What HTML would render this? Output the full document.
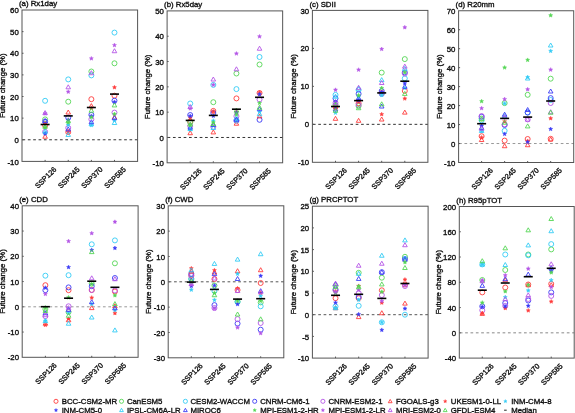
<!DOCTYPE html><html><head><meta charset="utf-8"><style>html,body{margin:0;padding:0;background:#fff;}svg{display:block;will-change:transform;}</style></head><body>
<svg width="575" height="413" viewBox="0 0 575 413" font-family='"Liberation Sans", sans-serif' font-size="7.8">
<style>text{fill:#111;stroke:#111;stroke-width:0.35px;}</style>
<rect width="575" height="413" fill="#fff"/>
<line x1="22.5" y1="139.77" x2="137.6" y2="139.77" stroke="#333" stroke-width="1" stroke-dasharray="2.7 2.65"/>
<rect x="22" y="10" width="115.6" height="151.4" fill="none" stroke="#555" stroke-width="1"/>
<text x="18.8" y="164.5" text-anchor="end">-10</text>
<line x1="22" y1="139.77" x2="23.5" y2="139.77" stroke="#555" stroke-width="1"/>
<text x="18.8" y="142.87" text-anchor="end">0</text>
<line x1="22" y1="118.14" x2="23.5" y2="118.14" stroke="#555" stroke-width="1"/>
<text x="18.8" y="121.24" text-anchor="end">10</text>
<line x1="22" y1="96.51" x2="23.5" y2="96.51" stroke="#555" stroke-width="1"/>
<text x="18.8" y="99.61" text-anchor="end">20</text>
<line x1="22" y1="74.89" x2="23.5" y2="74.89" stroke="#555" stroke-width="1"/>
<text x="18.8" y="77.99" text-anchor="end">30</text>
<line x1="22" y1="53.26" x2="23.5" y2="53.26" stroke="#555" stroke-width="1"/>
<text x="18.8" y="56.36" text-anchor="end">40</text>
<line x1="22" y1="31.63" x2="23.5" y2="31.63" stroke="#555" stroke-width="1"/>
<text x="18.8" y="34.73" text-anchor="end">50</text>
<text x="18.8" y="13.1" text-anchor="end">60</text>
<line x1="45.12" y1="161.4" x2="45.12" y2="159.9" stroke="#555" stroke-width="1"/>
<text transform="translate(56.92 169.9) rotate(-45)" text-anchor="end" font-size="7.3">SSP126</text>
<line x1="68.24" y1="161.4" x2="68.24" y2="159.9" stroke="#555" stroke-width="1"/>
<text transform="translate(80.04 169.9) rotate(-45)" text-anchor="end" font-size="7.3">SSP245</text>
<line x1="91.36" y1="161.4" x2="91.36" y2="159.9" stroke="#555" stroke-width="1"/>
<text transform="translate(103.16 169.9) rotate(-45)" text-anchor="end" font-size="7.3">SSP370</text>
<line x1="114.48" y1="161.4" x2="114.48" y2="159.9" stroke="#555" stroke-width="1"/>
<text transform="translate(126.28 169.9) rotate(-45)" text-anchor="end" font-size="7.3">SSP585</text>
<text x="19" y="6.1">(a) Rx1day</text>
<text transform="translate(5.2 85.7) rotate(-90)" text-anchor="middle">Future change (%)</text>
<circle cx="45.12" cy="125.6" r="2.5" fill="none" stroke="#ff3b3b" stroke-width="0.9"/>
<circle cx="45.12" cy="119.4" r="2.5" fill="none" stroke="#55d655" stroke-width="0.9"/>
<circle cx="45.12" cy="100.8" r="2.5" fill="none" stroke="#33ccf5" stroke-width="0.9"/>
<circle cx="45.12" cy="121.6" r="2.5" fill="none" stroke="#3a3af5" stroke-width="0.9"/>
<circle cx="45.12" cy="131.8" r="2.5" fill="none" stroke="#b455e6" stroke-width="0.9"/>
<polygon points="45.12,134.2 47.42,138.22 42.82,138.22" fill="none" stroke="#ff3b3b" stroke-width="0.9"/>
<polygon points="45.12,121.3 45.71,122.59 47.12,122.75 46.07,123.71 46.35,125.1 45.12,124.4 43.89,125.1 44.17,123.71 43.12,122.75 44.53,122.59" fill="#ff3b3b" stroke="#ff3b3b" stroke-width="0.45"/>
<polygon points="45.12,131.1 45.71,132.39 47.12,132.55 46.07,133.51 46.35,134.9 45.12,134.2 43.89,134.9 44.17,133.51 43.12,132.55 44.53,132.39" fill="#33ccf5" stroke="#33ccf5" stroke-width="0.45"/>
<polygon points="45.12,131.5 45.71,132.79 47.12,132.95 46.07,133.91 46.35,135.3 45.12,134.6 43.89,135.3 44.17,133.91 43.12,132.95 44.53,132.79" fill="#3a3af5" stroke="#3a3af5" stroke-width="0.45"/>
<polygon points="45.12,129.1 47.42,133.12 42.82,133.12" fill="none" stroke="#33ccf5" stroke-width="0.9"/>
<polygon points="45.12,118.6 47.42,122.62 42.82,122.62" fill="none" stroke="#3a3af5" stroke-width="0.9"/>
<polygon points="45.12,125.3 45.71,126.59 47.12,126.75 46.07,127.71 46.35,129.1 45.12,128.4 43.89,129.1 44.17,127.71 43.12,126.75 44.53,126.59" fill="#55d655" stroke="#55d655" stroke-width="0.45"/>
<polygon points="45.12,111.4 45.71,112.69 47.12,112.85 46.07,113.81 46.35,115.2 45.12,114.5 43.89,115.2 44.17,113.81 43.12,112.85 44.53,112.69" fill="#b455e6" stroke="#b455e6" stroke-width="0.45"/>
<polygon points="45.12,110.6 47.42,114.62 42.82,114.62" fill="none" stroke="#b455e6" stroke-width="0.9"/>
<polygon points="45.12,124.2 47.42,128.22 42.82,128.22" fill="none" stroke="#55d655" stroke-width="0.9"/>
<line x1="40.62" y1="124.5" x2="49.62" y2="124.5" stroke="#000" stroke-width="1.6"/>
<circle cx="68.24" cy="132.1" r="2.5" fill="none" stroke="#ff3b3b" stroke-width="0.9"/>
<circle cx="68.24" cy="101.7" r="2.5" fill="none" stroke="#55d655" stroke-width="0.9"/>
<circle cx="68.24" cy="79.4" r="2.5" fill="none" stroke="#33ccf5" stroke-width="0.9"/>
<circle cx="68.24" cy="117.7" r="2.5" fill="none" stroke="#3a3af5" stroke-width="0.9"/>
<circle cx="68.24" cy="127.9" r="2.5" fill="none" stroke="#b455e6" stroke-width="0.9"/>
<polygon points="68.24,110 70.54,114.02 65.94,114.02" fill="none" stroke="#ff3b3b" stroke-width="0.9"/>
<polygon points="68.24,130 68.83,131.29 70.24,131.45 69.19,132.41 69.47,133.8 68.24,133.1 67.01,133.8 67.29,132.41 66.24,131.45 67.65,131.29" fill="#ff3b3b" stroke="#ff3b3b" stroke-width="0.45"/>
<polygon points="68.24,122.8 68.83,124.09 70.24,124.25 69.19,125.21 69.47,126.6 68.24,125.9 67.01,126.6 67.29,125.21 66.24,124.25 67.65,124.09" fill="#33ccf5" stroke="#33ccf5" stroke-width="0.45"/>
<polygon points="68.24,117.7 68.83,118.99 70.24,119.15 69.19,120.11 69.47,121.5 68.24,120.8 67.01,121.5 67.29,120.11 66.24,119.15 67.65,118.99" fill="#3a3af5" stroke="#3a3af5" stroke-width="0.45"/>
<polygon points="68.24,132.4 70.54,136.42 65.94,136.42" fill="none" stroke="#33ccf5" stroke-width="0.9"/>
<polygon points="68.24,126.9 70.54,130.92 65.94,130.92" fill="none" stroke="#3a3af5" stroke-width="0.9"/>
<polygon points="68.24,120.3 68.83,121.59 70.24,121.75 69.19,122.71 69.47,124.1 68.24,123.4 67.01,124.1 67.29,122.71 66.24,121.75 67.65,121.59" fill="#55d655" stroke="#55d655" stroke-width="0.45"/>
<polygon points="68.24,89.7 68.83,90.99 70.24,91.15 69.19,92.11 69.47,93.5 68.24,92.8 67.01,93.5 67.29,92.11 66.24,91.15 67.65,90.99" fill="#b455e6" stroke="#b455e6" stroke-width="0.45"/>
<polygon points="68.24,84.8 70.54,88.82 65.94,88.82" fill="none" stroke="#b455e6" stroke-width="0.9"/>
<polygon points="68.24,118.7 70.54,122.72 65.94,122.72" fill="none" stroke="#55d655" stroke-width="0.9"/>
<line x1="63.74" y1="115.9" x2="72.74" y2="115.9" stroke="#000" stroke-width="1.6"/>
<circle cx="91.36" cy="99.2" r="2.5" fill="none" stroke="#ff3b3b" stroke-width="0.9"/>
<circle cx="91.36" cy="71.5" r="2.5" fill="none" stroke="#55d655" stroke-width="0.9"/>
<circle cx="91.36" cy="75.4" r="2.5" fill="none" stroke="#33ccf5" stroke-width="0.9"/>
<circle cx="91.36" cy="114.9" r="2.5" fill="none" stroke="#3a3af5" stroke-width="0.9"/>
<circle cx="91.36" cy="119.3" r="2.5" fill="none" stroke="#b455e6" stroke-width="0.9"/>
<polygon points="91.36,103.6 93.66,107.62 89.06,107.62" fill="none" stroke="#ff3b3b" stroke-width="0.9"/>
<polygon points="91.36,105.9 91.95,107.19 93.36,107.35 92.31,108.31 92.59,109.7 91.36,109 90.13,109.7 90.41,108.31 89.36,107.35 90.77,107.19" fill="#ff3b3b" stroke="#ff3b3b" stroke-width="0.45"/>
<polygon points="91.36,123.1 91.95,124.39 93.36,124.55 92.31,125.51 92.59,126.9 91.36,126.2 90.13,126.9 90.41,125.51 89.36,124.55 90.77,124.39" fill="#33ccf5" stroke="#33ccf5" stroke-width="0.45"/>
<polygon points="91.36,113.9 91.95,115.19 93.36,115.35 92.31,116.31 92.59,117.7 91.36,117 90.13,117.7 90.41,116.31 89.36,115.35 90.77,115.19" fill="#3a3af5" stroke="#3a3af5" stroke-width="0.45"/>
<polygon points="91.36,121.7 93.66,125.72 89.06,125.72" fill="none" stroke="#33ccf5" stroke-width="0.9"/>
<polygon points="91.36,119.7 93.66,123.72 89.06,123.72" fill="none" stroke="#3a3af5" stroke-width="0.9"/>
<polygon points="91.36,115.2 91.95,116.49 93.36,116.65 92.31,117.61 92.59,119 91.36,118.3 90.13,119 90.41,117.61 89.36,116.65 90.77,116.49" fill="#55d655" stroke="#55d655" stroke-width="0.45"/>
<polygon points="91.36,56.4 91.95,57.69 93.36,57.85 92.31,58.81 92.59,60.2 91.36,59.5 90.13,60.2 90.41,58.81 89.36,57.85 90.77,57.69" fill="#b455e6" stroke="#b455e6" stroke-width="0.45"/>
<polygon points="91.36,70.7 93.66,74.72 89.06,74.72" fill="none" stroke="#b455e6" stroke-width="0.9"/>
<polygon points="91.36,108.2 93.66,112.22 89.06,112.22" fill="none" stroke="#55d655" stroke-width="0.9"/>
<line x1="86.86" y1="107.5" x2="95.86" y2="107.5" stroke="#000" stroke-width="1.6"/>
<circle cx="114.48" cy="95.7" r="2.5" fill="none" stroke="#ff3b3b" stroke-width="0.9"/>
<circle cx="114.48" cy="63.3" r="2.5" fill="none" stroke="#55d655" stroke-width="0.9"/>
<circle cx="114.48" cy="32.6" r="2.5" fill="none" stroke="#33ccf5" stroke-width="0.9"/>
<circle cx="114.48" cy="100.7" r="2.5" fill="none" stroke="#3a3af5" stroke-width="0.9"/>
<circle cx="114.48" cy="112.6" r="2.5" fill="none" stroke="#b455e6" stroke-width="0.9"/>
<polygon points="114.48,115 116.78,119.02 112.18,119.02" fill="none" stroke="#ff3b3b" stroke-width="0.9"/>
<polygon points="114.48,85.3 115.07,86.59 116.48,86.75 115.43,87.71 115.71,89.1 114.48,88.4 113.25,89.1 113.53,87.71 112.48,86.75 113.89,86.59" fill="#ff3b3b" stroke="#ff3b3b" stroke-width="0.45"/>
<polygon points="114.48,118.3 115.07,119.59 116.48,119.75 115.43,120.71 115.71,122.1 114.48,121.4 113.25,122.1 113.53,120.71 112.48,119.75 113.89,119.59" fill="#33ccf5" stroke="#33ccf5" stroke-width="0.45"/>
<polygon points="114.48,99.9 115.07,101.19 116.48,101.35 115.43,102.31 115.71,103.7 114.48,103 113.25,103.7 113.53,102.31 112.48,101.35 113.89,101.19" fill="#3a3af5" stroke="#3a3af5" stroke-width="0.45"/>
<polygon points="114.48,120.5 116.78,124.52 112.18,124.52" fill="none" stroke="#33ccf5" stroke-width="0.9"/>
<polygon points="114.48,115.7 116.78,119.72 112.18,119.72" fill="none" stroke="#3a3af5" stroke-width="0.9"/>
<polygon points="114.48,112 115.07,113.29 116.48,113.45 115.43,114.41 115.71,115.8 114.48,115.1 113.25,115.8 113.53,114.41 112.48,113.45 113.89,113.29" fill="#55d655" stroke="#55d655" stroke-width="0.45"/>
<polygon points="114.48,43.1 115.07,44.39 116.48,44.55 115.43,45.51 115.71,46.9 114.48,46.2 113.25,46.9 113.53,45.51 112.48,44.55 113.89,44.39" fill="#b455e6" stroke="#b455e6" stroke-width="0.45"/>
<polygon points="114.48,48.7 116.78,52.73 112.18,52.73" fill="none" stroke="#b455e6" stroke-width="0.9"/>
<polygon points="114.48,102.9 116.78,106.92 112.18,106.92" fill="none" stroke="#55d655" stroke-width="0.9"/>
<line x1="109.98" y1="94.1" x2="118.98" y2="94.1" stroke="#000" stroke-width="1.6"/>
<line x1="167.6" y1="137.48" x2="282.65" y2="137.48" stroke="#333" stroke-width="1" stroke-dasharray="2.7 2.65"/>
<rect x="167.1" y="10.9" width="115.55" height="151.9" fill="none" stroke="#555" stroke-width="1"/>
<text x="163.9" y="165.9" text-anchor="end">-10</text>
<line x1="167.1" y1="137.48" x2="168.6" y2="137.48" stroke="#555" stroke-width="1"/>
<text x="163.9" y="140.58" text-anchor="end">0</text>
<line x1="167.1" y1="112.17" x2="168.6" y2="112.17" stroke="#555" stroke-width="1"/>
<text x="163.9" y="115.27" text-anchor="end">10</text>
<line x1="167.1" y1="86.85" x2="168.6" y2="86.85" stroke="#555" stroke-width="1"/>
<text x="163.9" y="89.95" text-anchor="end">20</text>
<line x1="167.1" y1="61.53" x2="168.6" y2="61.53" stroke="#555" stroke-width="1"/>
<text x="163.9" y="64.63" text-anchor="end">30</text>
<line x1="167.1" y1="36.22" x2="168.6" y2="36.22" stroke="#555" stroke-width="1"/>
<text x="163.9" y="39.32" text-anchor="end">40</text>
<text x="163.9" y="14" text-anchor="end">50</text>
<line x1="190.21" y1="162.8" x2="190.21" y2="161.3" stroke="#555" stroke-width="1"/>
<text transform="translate(202.01 171.3) rotate(-45)" text-anchor="end" font-size="7.3">SSP126</text>
<line x1="213.32" y1="162.8" x2="213.32" y2="161.3" stroke="#555" stroke-width="1"/>
<text transform="translate(225.12 171.3) rotate(-45)" text-anchor="end" font-size="7.3">SSP245</text>
<line x1="236.43" y1="162.8" x2="236.43" y2="161.3" stroke="#555" stroke-width="1"/>
<text transform="translate(248.23 171.3) rotate(-45)" text-anchor="end" font-size="7.3">SSP370</text>
<line x1="259.54" y1="162.8" x2="259.54" y2="161.3" stroke="#555" stroke-width="1"/>
<text transform="translate(271.34 171.3) rotate(-45)" text-anchor="end" font-size="7.3">SSP585</text>
<text x="164.1" y="7">(b) Rx5day</text>
<text transform="translate(150.3 86.85) rotate(-90)" text-anchor="middle">Future change (%)</text>
<circle cx="190.21" cy="121.5" r="2.5" fill="none" stroke="#ff3b3b" stroke-width="0.9"/>
<circle cx="190.21" cy="122.5" r="2.5" fill="none" stroke="#55d655" stroke-width="0.9"/>
<circle cx="190.21" cy="103.5" r="2.5" fill="none" stroke="#33ccf5" stroke-width="0.9"/>
<circle cx="190.21" cy="115" r="2.5" fill="none" stroke="#3a3af5" stroke-width="0.9"/>
<circle cx="190.21" cy="126" r="2.5" fill="none" stroke="#b455e6" stroke-width="0.9"/>
<polygon points="190.21,130.7 192.51,134.72 187.91,134.72" fill="none" stroke="#ff3b3b" stroke-width="0.9"/>
<polygon points="190.21,115.7 190.8,116.99 192.21,117.15 191.16,118.11 191.44,119.5 190.21,118.8 188.98,119.5 189.26,118.11 188.21,117.15 189.62,116.99" fill="#ff3b3b" stroke="#ff3b3b" stroke-width="0.45"/>
<polygon points="190.21,127.4 190.8,128.69 192.21,128.85 191.16,129.81 191.44,131.2 190.21,130.5 188.98,131.2 189.26,129.81 188.21,128.85 189.62,128.69" fill="#33ccf5" stroke="#33ccf5" stroke-width="0.45"/>
<polygon points="190.21,113.9 190.8,115.19 192.21,115.35 191.16,116.31 191.44,117.7 190.21,117 188.98,117.7 189.26,116.31 188.21,115.35 189.62,115.19" fill="#3a3af5" stroke="#3a3af5" stroke-width="0.45"/>
<polygon points="190.21,126.5 192.51,130.53 187.91,130.53" fill="none" stroke="#33ccf5" stroke-width="0.9"/>
<polygon points="190.21,125.1 192.51,129.12 187.91,129.12" fill="none" stroke="#3a3af5" stroke-width="0.9"/>
<polygon points="190.21,122.9 190.8,124.19 192.21,124.35 191.16,125.31 191.44,126.7 190.21,126 188.98,126.7 189.26,125.31 188.21,124.35 189.62,124.19" fill="#55d655" stroke="#55d655" stroke-width="0.45"/>
<polygon points="190.21,106.4 190.8,107.69 192.21,107.85 191.16,108.81 191.44,110.2 190.21,109.5 188.98,110.2 189.26,108.81 188.21,107.85 189.62,107.69" fill="#b455e6" stroke="#b455e6" stroke-width="0.45"/>
<polygon points="190.21,104.5 192.51,108.52 187.91,108.52" fill="none" stroke="#b455e6" stroke-width="0.9"/>
<polygon points="190.21,121.9 192.51,125.92 187.91,125.92" fill="none" stroke="#55d655" stroke-width="0.9"/>
<line x1="185.71" y1="120.4" x2="194.71" y2="120.4" stroke="#000" stroke-width="1.6"/>
<circle cx="213.32" cy="110.9" r="2.5" fill="none" stroke="#ff3b3b" stroke-width="0.9"/>
<circle cx="213.32" cy="102.2" r="2.5" fill="none" stroke="#55d655" stroke-width="0.9"/>
<circle cx="213.32" cy="84.9" r="2.5" fill="none" stroke="#33ccf5" stroke-width="0.9"/>
<circle cx="213.32" cy="113" r="2.5" fill="none" stroke="#3a3af5" stroke-width="0.9"/>
<circle cx="213.32" cy="126.8" r="2.5" fill="none" stroke="#b455e6" stroke-width="0.9"/>
<polygon points="213.32,129.9 215.62,133.92 211.02,133.92" fill="none" stroke="#ff3b3b" stroke-width="0.9"/>
<polygon points="213.32,109.4 213.91,110.69 215.32,110.85 214.27,111.81 214.55,113.2 213.32,112.5 212.09,113.2 212.37,111.81 211.32,110.85 212.73,110.69" fill="#ff3b3b" stroke="#ff3b3b" stroke-width="0.45"/>
<polygon points="213.32,118.7 213.91,119.99 215.32,120.15 214.27,121.11 214.55,122.5 213.32,121.8 212.09,122.5 212.37,121.11 211.32,120.15 212.73,119.99" fill="#33ccf5" stroke="#33ccf5" stroke-width="0.45"/>
<polygon points="213.32,113.8 213.91,115.09 215.32,115.25 214.27,116.21 214.55,117.6 213.32,116.9 212.09,117.6 212.37,116.21 211.32,115.25 212.73,115.09" fill="#3a3af5" stroke="#3a3af5" stroke-width="0.45"/>
<polygon points="213.32,125.5 215.62,129.53 211.02,129.53" fill="none" stroke="#33ccf5" stroke-width="0.9"/>
<polygon points="213.32,122.5 215.62,126.52 211.02,126.52" fill="none" stroke="#3a3af5" stroke-width="0.9"/>
<polygon points="213.32,120.4 213.91,121.69 215.32,121.85 214.27,122.81 214.55,124.2 213.32,123.5 212.09,124.2 212.37,122.81 211.32,121.85 212.73,121.69" fill="#55d655" stroke="#55d655" stroke-width="0.45"/>
<polygon points="213.32,82.8 213.91,84.09 215.32,84.25 214.27,85.21 214.55,86.6 213.32,85.9 212.09,86.6 212.37,85.21 211.32,84.25 212.73,84.09" fill="#b455e6" stroke="#b455e6" stroke-width="0.45"/>
<polygon points="213.32,77 215.62,81.02 211.02,81.02" fill="none" stroke="#b455e6" stroke-width="0.9"/>
<polygon points="213.32,121.5 215.62,125.52 211.02,125.52" fill="none" stroke="#55d655" stroke-width="0.9"/>
<line x1="208.82" y1="115.4" x2="217.82" y2="115.4" stroke="#000" stroke-width="1.6"/>
<circle cx="236.43" cy="98.4" r="2.5" fill="none" stroke="#ff3b3b" stroke-width="0.9"/>
<circle cx="236.43" cy="73.5" r="2.5" fill="none" stroke="#55d655" stroke-width="0.9"/>
<circle cx="236.43" cy="89.1" r="2.5" fill="none" stroke="#33ccf5" stroke-width="0.9"/>
<circle cx="236.43" cy="120.6" r="2.5" fill="none" stroke="#3a3af5" stroke-width="0.9"/>
<circle cx="236.43" cy="116.2" r="2.5" fill="none" stroke="#b455e6" stroke-width="0.9"/>
<polygon points="236.43,121.2 238.73,125.22 234.13,125.22" fill="none" stroke="#ff3b3b" stroke-width="0.9"/>
<polygon points="236.43,109.9 237.02,111.19 238.43,111.35 237.38,112.31 237.66,113.7 236.43,113 235.2,113.7 235.48,112.31 234.43,111.35 235.84,111.19" fill="#ff3b3b" stroke="#ff3b3b" stroke-width="0.45"/>
<polygon points="236.43,118.9 237.02,120.19 238.43,120.35 237.38,121.31 237.66,122.7 236.43,122 235.2,122.7 235.48,121.31 234.43,120.35 235.84,120.19" fill="#33ccf5" stroke="#33ccf5" stroke-width="0.45"/>
<polygon points="236.43,110.5 237.02,111.79 238.43,111.95 237.38,112.91 237.66,114.3 236.43,113.6 235.2,114.3 235.48,112.91 234.43,111.95 235.84,111.79" fill="#3a3af5" stroke="#3a3af5" stroke-width="0.45"/>
<polygon points="236.43,115.4 238.73,119.42 234.13,119.42" fill="none" stroke="#33ccf5" stroke-width="0.9"/>
<polygon points="236.43,117.2 238.73,121.22 234.13,121.22" fill="none" stroke="#3a3af5" stroke-width="0.9"/>
<polygon points="236.43,112.4 237.02,113.69 238.43,113.85 237.38,114.81 237.66,116.2 236.43,115.5 235.2,116.2 235.48,114.81 234.43,113.85 235.84,113.69" fill="#55d655" stroke="#55d655" stroke-width="0.45"/>
<polygon points="236.43,51.5 237.02,52.79 238.43,52.95 237.38,53.91 237.66,55.3 236.43,54.6 235.2,55.3 235.48,53.91 234.43,52.95 235.84,52.79" fill="#b455e6" stroke="#b455e6" stroke-width="0.45"/>
<polygon points="236.43,66.8 238.73,70.82 234.13,70.82" fill="none" stroke="#b455e6" stroke-width="0.9"/>
<polygon points="236.43,108.1 238.73,112.12 234.13,112.12" fill="none" stroke="#55d655" stroke-width="0.9"/>
<line x1="231.93" y1="109.2" x2="240.93" y2="109.2" stroke="#000" stroke-width="1.6"/>
<circle cx="259.54" cy="93" r="2.5" fill="none" stroke="#ff3b3b" stroke-width="0.9"/>
<circle cx="259.54" cy="64.5" r="2.5" fill="none" stroke="#55d655" stroke-width="0.9"/>
<circle cx="259.54" cy="57" r="2.5" fill="none" stroke="#33ccf5" stroke-width="0.9"/>
<circle cx="259.54" cy="119.8" r="2.5" fill="none" stroke="#3a3af5" stroke-width="0.9"/>
<circle cx="259.54" cy="99.5" r="2.5" fill="none" stroke="#b455e6" stroke-width="0.9"/>
<polygon points="259.54,113.9 261.84,117.92 257.24,117.92" fill="none" stroke="#ff3b3b" stroke-width="0.9"/>
<polygon points="259.54,90.4 260.13,91.69 261.54,91.85 260.49,92.81 260.77,94.2 259.54,93.5 258.31,94.2 258.59,92.81 257.54,91.85 258.95,91.69" fill="#ff3b3b" stroke="#ff3b3b" stroke-width="0.45"/>
<polygon points="259.54,109.8 260.13,111.09 261.54,111.25 260.49,112.21 260.77,113.6 259.54,112.9 258.31,113.6 258.59,112.21 257.54,111.25 258.95,111.09" fill="#33ccf5" stroke="#33ccf5" stroke-width="0.45"/>
<polygon points="259.54,92.3 260.13,93.59 261.54,93.75 260.49,94.71 260.77,96.1 259.54,95.4 258.31,96.1 258.59,94.71 257.54,93.75 258.95,93.59" fill="#3a3af5" stroke="#3a3af5" stroke-width="0.45"/>
<polygon points="259.54,111.7 261.84,115.72 257.24,115.72" fill="none" stroke="#33ccf5" stroke-width="0.9"/>
<polygon points="259.54,106.7 261.84,110.72 257.24,110.72" fill="none" stroke="#3a3af5" stroke-width="0.9"/>
<polygon points="259.54,101 260.13,102.29 261.54,102.45 260.49,103.41 260.77,104.8 259.54,104.1 258.31,104.8 258.59,103.41 257.54,102.45 258.95,102.29" fill="#55d655" stroke="#55d655" stroke-width="0.45"/>
<polygon points="259.54,34.4 260.13,35.69 261.54,35.85 260.49,36.81 260.77,38.2 259.54,37.5 258.31,38.2 258.59,36.81 257.54,35.85 258.95,35.69" fill="#b455e6" stroke="#b455e6" stroke-width="0.45"/>
<polygon points="259.54,46.2 261.84,50.23 257.24,50.23" fill="none" stroke="#b455e6" stroke-width="0.9"/>
<polygon points="259.54,105.2 261.84,109.22 257.24,109.22" fill="none" stroke="#55d655" stroke-width="0.9"/>
<line x1="255.04" y1="97.3" x2="264.04" y2="97.3" stroke="#000" stroke-width="1.6"/>
<line x1="312.9" y1="124.33" x2="427.9" y2="124.33" stroke="#333" stroke-width="1" stroke-dasharray="2.7 2.65"/>
<rect x="312.4" y="10.4" width="115.5" height="151.9" fill="none" stroke="#555" stroke-width="1"/>
<text x="309.2" y="165.4" text-anchor="end">-10</text>
<line x1="312.4" y1="124.33" x2="313.9" y2="124.33" stroke="#555" stroke-width="1"/>
<text x="309.2" y="127.43" text-anchor="end">0</text>
<line x1="312.4" y1="86.35" x2="313.9" y2="86.35" stroke="#555" stroke-width="1"/>
<text x="309.2" y="89.45" text-anchor="end">10</text>
<line x1="312.4" y1="48.38" x2="313.9" y2="48.38" stroke="#555" stroke-width="1"/>
<text x="309.2" y="51.48" text-anchor="end">20</text>
<text x="309.2" y="13.5" text-anchor="end">30</text>
<line x1="335.5" y1="162.3" x2="335.5" y2="160.8" stroke="#555" stroke-width="1"/>
<text transform="translate(347.3 170.8) rotate(-45)" text-anchor="end" font-size="7.3">SSP126</text>
<line x1="358.6" y1="162.3" x2="358.6" y2="160.8" stroke="#555" stroke-width="1"/>
<text transform="translate(370.4 170.8) rotate(-45)" text-anchor="end" font-size="7.3">SSP245</text>
<line x1="381.7" y1="162.3" x2="381.7" y2="160.8" stroke="#555" stroke-width="1"/>
<text transform="translate(393.5 170.8) rotate(-45)" text-anchor="end" font-size="7.3">SSP370</text>
<line x1="404.8" y1="162.3" x2="404.8" y2="160.8" stroke="#555" stroke-width="1"/>
<text transform="translate(416.6 170.8) rotate(-45)" text-anchor="end" font-size="7.3">SSP585</text>
<text x="309.4" y="6.5">(c) SDII</text>
<text transform="translate(295.6 86.35) rotate(-90)" text-anchor="middle">Future change (%)</text>
<circle cx="335.5" cy="107" r="2.5" fill="none" stroke="#ff3b3b" stroke-width="0.9"/>
<circle cx="335.5" cy="105" r="2.5" fill="none" stroke="#55d655" stroke-width="0.9"/>
<circle cx="335.5" cy="94.9" r="2.5" fill="none" stroke="#33ccf5" stroke-width="0.9"/>
<circle cx="335.5" cy="98.4" r="2.5" fill="none" stroke="#3a3af5" stroke-width="0.9"/>
<circle cx="335.5" cy="102.9" r="2.5" fill="none" stroke="#b455e6" stroke-width="0.9"/>
<polygon points="335.5,116.3 337.8,120.32 333.2,120.32" fill="none" stroke="#ff3b3b" stroke-width="0.9"/>
<polygon points="335.5,106.2 336.09,107.49 337.5,107.65 336.45,108.61 336.73,110 335.5,109.3 334.27,110 334.55,108.61 333.5,107.65 334.91,107.49" fill="#ff3b3b" stroke="#ff3b3b" stroke-width="0.45"/>
<polygon points="335.5,110.7 336.09,111.99 337.5,112.15 336.45,113.11 336.73,114.5 335.5,113.8 334.27,114.5 334.55,113.11 333.5,112.15 334.91,111.99" fill="#33ccf5" stroke="#33ccf5" stroke-width="0.45"/>
<polygon points="335.5,99.5 336.09,100.79 337.5,100.95 336.45,101.91 336.73,103.3 335.5,102.6 334.27,103.3 334.55,101.91 333.5,100.95 334.91,100.79" fill="#3a3af5" stroke="#3a3af5" stroke-width="0.45"/>
<polygon points="335.5,94.2 337.8,98.22 333.2,98.22" fill="none" stroke="#33ccf5" stroke-width="0.9"/>
<polygon points="335.5,106.9 337.8,110.92 333.2,110.92" fill="none" stroke="#3a3af5" stroke-width="0.9"/>
<polygon points="335.5,102.2 336.09,103.49 337.5,103.65 336.45,104.61 336.73,106 335.5,105.3 334.27,106 334.55,104.61 333.5,103.65 334.91,103.49" fill="#55d655" stroke="#55d655" stroke-width="0.45"/>
<polygon points="335.5,87.8 336.09,89.09 337.5,89.25 336.45,90.21 336.73,91.6 335.5,90.9 334.27,91.6 334.55,90.21 333.5,89.25 334.91,89.09" fill="#b455e6" stroke="#b455e6" stroke-width="0.45"/>
<polygon points="335.5,100.7 337.8,104.72 333.2,104.72" fill="none" stroke="#b455e6" stroke-width="0.9"/>
<polygon points="335.5,108.2 337.8,112.22 333.2,112.22" fill="none" stroke="#55d655" stroke-width="0.9"/>
<line x1="331" y1="106.5" x2="340" y2="106.5" stroke="#000" stroke-width="1.6"/>
<circle cx="358.6" cy="103.3" r="2.5" fill="none" stroke="#ff3b3b" stroke-width="0.9"/>
<circle cx="358.6" cy="106" r="2.5" fill="none" stroke="#55d655" stroke-width="0.9"/>
<circle cx="358.6" cy="89.9" r="2.5" fill="none" stroke="#33ccf5" stroke-width="0.9"/>
<circle cx="358.6" cy="93.9" r="2.5" fill="none" stroke="#3a3af5" stroke-width="0.9"/>
<circle cx="358.6" cy="104.9" r="2.5" fill="none" stroke="#b455e6" stroke-width="0.9"/>
<polygon points="358.6,118.3 360.9,122.32 356.3,122.32" fill="none" stroke="#ff3b3b" stroke-width="0.9"/>
<polygon points="358.6,99.9 359.19,101.19 360.6,101.35 359.55,102.31 359.83,103.7 358.6,103 357.37,103.7 357.65,102.31 356.6,101.35 358.01,101.19" fill="#ff3b3b" stroke="#ff3b3b" stroke-width="0.45"/>
<polygon points="358.6,94.9 359.19,96.19 360.6,96.35 359.55,97.31 359.83,98.7 358.6,98 357.37,98.7 357.65,97.31 356.6,96.35 358.01,96.19" fill="#33ccf5" stroke="#33ccf5" stroke-width="0.45"/>
<polygon points="358.6,98.1 359.19,99.39 360.6,99.55 359.55,100.51 359.83,101.9 358.6,101.2 357.37,101.9 357.65,100.51 356.6,99.55 358.01,99.39" fill="#3a3af5" stroke="#3a3af5" stroke-width="0.45"/>
<polygon points="358.6,86.2 360.9,90.22 356.3,90.22" fill="none" stroke="#33ccf5" stroke-width="0.9"/>
<polygon points="358.6,95.7 360.9,99.72 356.3,99.72" fill="none" stroke="#3a3af5" stroke-width="0.9"/>
<polygon points="358.6,93.3 359.19,94.59 360.6,94.75 359.55,95.71 359.83,97.1 358.6,96.4 357.37,97.1 357.65,95.71 356.6,94.75 358.01,94.59" fill="#55d655" stroke="#55d655" stroke-width="0.45"/>
<polygon points="358.6,67.7 359.19,68.99 360.6,69.15 359.55,70.11 359.83,71.5 358.6,70.8 357.37,71.5 357.65,70.11 356.6,69.15 358.01,68.99" fill="#b455e6" stroke="#b455e6" stroke-width="0.45"/>
<polygon points="358.6,85.3 360.9,89.32 356.3,89.32" fill="none" stroke="#b455e6" stroke-width="0.9"/>
<polygon points="358.6,105.7 360.9,109.72 356.3,109.72" fill="none" stroke="#55d655" stroke-width="0.9"/>
<line x1="354.1" y1="100.6" x2="363.1" y2="100.6" stroke="#000" stroke-width="1.6"/>
<circle cx="381.7" cy="93" r="2.5" fill="none" stroke="#ff3b3b" stroke-width="0.9"/>
<circle cx="381.7" cy="72.6" r="2.5" fill="none" stroke="#55d655" stroke-width="0.9"/>
<circle cx="381.7" cy="94" r="2.5" fill="none" stroke="#33ccf5" stroke-width="0.9"/>
<circle cx="381.7" cy="91" r="2.5" fill="none" stroke="#3a3af5" stroke-width="0.9"/>
<circle cx="381.7" cy="93.5" r="2.5" fill="none" stroke="#b455e6" stroke-width="0.9"/>
<polygon points="381.7,117 384,121.02 379.4,121.02" fill="none" stroke="#ff3b3b" stroke-width="0.9"/>
<polygon points="381.7,112.2 382.29,113.49 383.7,113.65 382.65,114.61 382.93,116 381.7,115.3 380.47,116 380.75,114.61 379.7,113.65 381.11,113.49" fill="#ff3b3b" stroke="#ff3b3b" stroke-width="0.45"/>
<polygon points="381.7,92.9 382.29,94.19 383.7,94.35 382.65,95.31 382.93,96.7 381.7,96 380.47,96.7 380.75,95.31 379.7,94.35 381.11,94.19" fill="#33ccf5" stroke="#33ccf5" stroke-width="0.45"/>
<polygon points="381.7,89.9 382.29,91.19 383.7,91.35 382.65,92.31 382.93,93.7 381.7,93 380.47,93.7 380.75,92.31 379.7,91.35 381.11,91.19" fill="#3a3af5" stroke="#3a3af5" stroke-width="0.45"/>
<polygon points="381.7,77.6 384,81.62 379.4,81.62" fill="none" stroke="#33ccf5" stroke-width="0.9"/>
<polygon points="381.7,104 384,108.02 379.4,108.02" fill="none" stroke="#3a3af5" stroke-width="0.9"/>
<polygon points="381.7,86 382.29,87.29 383.7,87.45 382.65,88.41 382.93,89.8 381.7,89.1 380.47,89.8 380.75,88.41 379.7,87.45 381.11,87.29" fill="#55d655" stroke="#55d655" stroke-width="0.45"/>
<polygon points="381.7,47 382.29,48.29 383.7,48.45 382.65,49.41 382.93,50.8 381.7,50.1 380.47,50.8 380.75,49.41 379.7,48.45 381.11,48.29" fill="#b455e6" stroke="#b455e6" stroke-width="0.45"/>
<polygon points="381.7,80.5 384,84.52 379.4,84.52" fill="none" stroke="#b455e6" stroke-width="0.9"/>
<polygon points="381.7,101.8 384,105.82 379.4,105.82" fill="none" stroke="#55d655" stroke-width="0.9"/>
<line x1="377.2" y1="92.9" x2="386.2" y2="92.9" stroke="#000" stroke-width="1.6"/>
<circle cx="404.8" cy="90.9" r="2.5" fill="none" stroke="#ff3b3b" stroke-width="0.9"/>
<circle cx="404.8" cy="59.1" r="2.5" fill="none" stroke="#55d655" stroke-width="0.9"/>
<circle cx="404.8" cy="78.4" r="2.5" fill="none" stroke="#33ccf5" stroke-width="0.9"/>
<circle cx="404.8" cy="72.4" r="2.5" fill="none" stroke="#3a3af5" stroke-width="0.9"/>
<circle cx="404.8" cy="73.5" r="2.5" fill="none" stroke="#b455e6" stroke-width="0.9"/>
<polygon points="404.8,110.1 407.1,114.12 402.5,114.12" fill="none" stroke="#ff3b3b" stroke-width="0.9"/>
<polygon points="404.8,96.5 405.39,97.79 406.8,97.95 405.75,98.91 406.03,100.3 404.8,99.6 403.57,100.3 403.85,98.91 402.8,97.95 404.21,97.79" fill="#ff3b3b" stroke="#ff3b3b" stroke-width="0.45"/>
<polygon points="404.8,85.9 405.39,87.19 406.8,87.35 405.75,88.31 406.03,89.7 404.8,89 403.57,89.7 403.85,88.31 402.8,87.35 404.21,87.19" fill="#33ccf5" stroke="#33ccf5" stroke-width="0.45"/>
<polygon points="404.8,81.2 405.39,82.49 406.8,82.65 405.75,83.61 406.03,85 404.8,84.3 403.57,85 403.85,83.61 402.8,82.65 404.21,82.49" fill="#3a3af5" stroke="#3a3af5" stroke-width="0.45"/>
<polygon points="404.8,66.3 407.1,70.32 402.5,70.32" fill="none" stroke="#33ccf5" stroke-width="0.9"/>
<polygon points="404.8,84.3 407.1,88.32 402.5,88.32" fill="none" stroke="#3a3af5" stroke-width="0.9"/>
<polygon points="404.8,70.3 405.39,71.59 406.8,71.75 405.75,72.71 406.03,74.1 404.8,73.4 403.57,74.1 403.85,72.71 402.8,71.75 404.21,71.59" fill="#55d655" stroke="#55d655" stroke-width="0.45"/>
<polygon points="404.8,25.3 405.39,26.59 406.8,26.75 405.75,27.71 406.03,29.1 404.8,28.4 403.57,29.1 403.85,27.71 402.8,26.75 404.21,26.59" fill="#b455e6" stroke="#b455e6" stroke-width="0.45"/>
<polygon points="404.8,64.1 407.1,68.12 402.5,68.12" fill="none" stroke="#b455e6" stroke-width="0.9"/>
<polygon points="404.8,91.4 407.1,95.42 402.5,95.42" fill="none" stroke="#55d655" stroke-width="0.9"/>
<line x1="400.3" y1="81.2" x2="409.3" y2="81.2" stroke="#000" stroke-width="1.6"/>
<line x1="459.1" y1="143.53" x2="573.7" y2="143.53" stroke="#999" stroke-width="1" stroke-dasharray="2.7 2.65"/>
<rect x="458.6" y="10.75" width="115.1" height="151.75" fill="none" stroke="#555" stroke-width="1"/>
<text x="455.4" y="165.6" text-anchor="end">-10</text>
<line x1="458.6" y1="143.53" x2="460.1" y2="143.53" stroke="#555" stroke-width="1"/>
<text x="455.4" y="146.63" text-anchor="end">0</text>
<line x1="458.6" y1="124.56" x2="460.1" y2="124.56" stroke="#555" stroke-width="1"/>
<text x="455.4" y="127.66" text-anchor="end">10</text>
<line x1="458.6" y1="105.59" x2="460.1" y2="105.59" stroke="#555" stroke-width="1"/>
<text x="455.4" y="108.69" text-anchor="end">20</text>
<line x1="458.6" y1="86.62" x2="460.1" y2="86.62" stroke="#555" stroke-width="1"/>
<text x="455.4" y="89.72" text-anchor="end">30</text>
<line x1="458.6" y1="67.66" x2="460.1" y2="67.66" stroke="#555" stroke-width="1"/>
<text x="455.4" y="70.76" text-anchor="end">40</text>
<line x1="458.6" y1="48.69" x2="460.1" y2="48.69" stroke="#555" stroke-width="1"/>
<text x="455.4" y="51.79" text-anchor="end">50</text>
<line x1="458.6" y1="29.72" x2="460.1" y2="29.72" stroke="#555" stroke-width="1"/>
<text x="455.4" y="32.82" text-anchor="end">60</text>
<text x="455.4" y="13.85" text-anchor="end">70</text>
<line x1="481.62" y1="162.5" x2="481.62" y2="161" stroke="#555" stroke-width="1"/>
<text transform="translate(493.42 171) rotate(-45)" text-anchor="end" font-size="7.3">SSP126</text>
<line x1="504.64" y1="162.5" x2="504.64" y2="161" stroke="#555" stroke-width="1"/>
<text transform="translate(516.44 171) rotate(-45)" text-anchor="end" font-size="7.3">SSP245</text>
<line x1="527.66" y1="162.5" x2="527.66" y2="161" stroke="#555" stroke-width="1"/>
<text transform="translate(539.46 171) rotate(-45)" text-anchor="end" font-size="7.3">SSP370</text>
<line x1="550.68" y1="162.5" x2="550.68" y2="161" stroke="#555" stroke-width="1"/>
<text transform="translate(562.48 171) rotate(-45)" text-anchor="end" font-size="7.3">SSP585</text>
<text x="455.6" y="6.85">(d) R20mm</text>
<text transform="translate(441.8 86.62) rotate(-90)" text-anchor="middle">Future change (%)</text>
<circle cx="481.62" cy="136.2" r="2.5" fill="none" stroke="#ff3b3b" stroke-width="0.9"/>
<circle cx="481.62" cy="118.6" r="2.5" fill="none" stroke="#55d655" stroke-width="0.9"/>
<circle cx="481.62" cy="120.4" r="2.5" fill="none" stroke="#33ccf5" stroke-width="0.9"/>
<circle cx="481.62" cy="116.8" r="2.5" fill="none" stroke="#3a3af5" stroke-width="0.9"/>
<circle cx="481.62" cy="116" r="2.5" fill="none" stroke="#b455e6" stroke-width="0.9"/>
<polygon points="481.62,137.5 483.92,141.53 479.32,141.53" fill="none" stroke="#ff3b3b" stroke-width="0.9"/>
<polygon points="481.62,135.4 482.21,136.69 483.62,136.85 482.57,137.81 482.85,139.2 481.62,138.5 480.39,139.2 480.67,137.81 479.62,136.85 481.03,136.69" fill="#ff3b3b" stroke="#ff3b3b" stroke-width="0.45"/>
<polygon points="481.62,128.9 482.21,130.19 483.62,130.35 482.57,131.31 482.85,132.7 481.62,132 480.39,132.7 480.67,131.31 479.62,130.35 481.03,130.19" fill="#33ccf5" stroke="#33ccf5" stroke-width="0.45"/>
<polygon points="481.62,123.8 482.21,125.09 483.62,125.25 482.57,126.21 482.85,127.6 481.62,126.9 480.39,127.6 480.67,126.21 479.62,125.25 481.03,125.09" fill="#3a3af5" stroke="#3a3af5" stroke-width="0.45"/>
<polygon points="481.62,128.4 483.92,132.42 479.32,132.42" fill="none" stroke="#33ccf5" stroke-width="0.9"/>
<polygon points="481.62,125.4 483.92,129.43 479.32,129.43" fill="none" stroke="#3a3af5" stroke-width="0.9"/>
<polygon points="481.62,99.2 482.21,100.49 483.62,100.65 482.57,101.61 482.85,103 481.62,102.3 480.39,103 480.67,101.61 479.62,100.65 481.03,100.49" fill="#55d655" stroke="#55d655" stroke-width="0.45"/>
<polygon points="481.62,106.2 482.21,107.49 483.62,107.65 482.57,108.61 482.85,110 481.62,109.3 480.39,110 480.67,108.61 479.62,107.65 481.03,107.49" fill="#b455e6" stroke="#b455e6" stroke-width="0.45"/>
<polygon points="481.62,126.2 483.92,130.22 479.32,130.22" fill="none" stroke="#b455e6" stroke-width="0.9"/>
<polygon points="481.62,116.7 483.92,120.72 479.32,120.72" fill="none" stroke="#55d655" stroke-width="0.9"/>
<line x1="477.12" y1="123.7" x2="486.12" y2="123.7" stroke="#000" stroke-width="1.6"/>
<circle cx="504.64" cy="140.6" r="2.5" fill="none" stroke="#ff3b3b" stroke-width="0.9"/>
<circle cx="504.64" cy="103.1" r="2.5" fill="none" stroke="#55d655" stroke-width="0.9"/>
<circle cx="504.64" cy="130.8" r="2.5" fill="none" stroke="#33ccf5" stroke-width="0.9"/>
<circle cx="504.64" cy="125" r="2.5" fill="none" stroke="#3a3af5" stroke-width="0.9"/>
<circle cx="504.64" cy="124.3" r="2.5" fill="none" stroke="#b455e6" stroke-width="0.9"/>
<polygon points="504.64,143.7 506.94,147.72 502.34,147.72" fill="none" stroke="#ff3b3b" stroke-width="0.9"/>
<polygon points="504.64,119.4 505.23,120.69 506.64,120.85 505.59,121.81 505.87,123.2 504.64,122.5 503.41,123.2 503.69,121.81 502.64,120.85 504.05,120.69" fill="#ff3b3b" stroke="#ff3b3b" stroke-width="0.45"/>
<polygon points="504.64,101.4 505.23,102.69 506.64,102.85 505.59,103.81 505.87,105.2 504.64,104.5 503.41,105.2 503.69,103.81 502.64,102.85 504.05,102.69" fill="#33ccf5" stroke="#33ccf5" stroke-width="0.45"/>
<polygon points="504.64,131.9 505.23,133.19 506.64,133.35 505.59,134.31 505.87,135.7 504.64,135 503.41,135.7 503.69,134.31 502.64,133.35 504.05,133.19" fill="#3a3af5" stroke="#3a3af5" stroke-width="0.45"/>
<polygon points="504.64,113.7 506.94,117.72 502.34,117.72" fill="none" stroke="#33ccf5" stroke-width="0.9"/>
<polygon points="504.64,112.2 506.94,116.22 502.34,116.22" fill="none" stroke="#3a3af5" stroke-width="0.9"/>
<polygon points="504.64,65.5 505.23,66.79 506.64,66.95 505.59,67.91 505.87,69.3 504.64,68.6 503.41,69.3 503.69,67.91 502.64,66.95 504.05,66.79" fill="#55d655" stroke="#55d655" stroke-width="0.45"/>
<polygon points="504.64,97.1 505.23,98.39 506.64,98.55 505.59,99.51 505.87,100.9 504.64,100.2 503.41,100.9 503.69,99.51 502.64,98.55 504.05,98.39" fill="#b455e6" stroke="#b455e6" stroke-width="0.45"/>
<polygon points="504.64,114.7 506.94,118.72 502.34,118.72" fill="none" stroke="#b455e6" stroke-width="0.9"/>
<polygon points="504.64,120.2 506.94,124.22 502.34,124.22" fill="none" stroke="#55d655" stroke-width="0.9"/>
<line x1="500.14" y1="118.4" x2="509.14" y2="118.4" stroke="#000" stroke-width="1.6"/>
<circle cx="527.66" cy="139" r="2.5" fill="none" stroke="#ff3b3b" stroke-width="0.9"/>
<circle cx="527.66" cy="94.8" r="2.5" fill="none" stroke="#55d655" stroke-width="0.9"/>
<circle cx="527.66" cy="112.5" r="2.5" fill="none" stroke="#33ccf5" stroke-width="0.9"/>
<circle cx="527.66" cy="112.5" r="2.5" fill="none" stroke="#3a3af5" stroke-width="0.9"/>
<circle cx="527.66" cy="119.4" r="2.5" fill="none" stroke="#b455e6" stroke-width="0.9"/>
<polygon points="527.66,142.7 529.96,146.72 525.36,146.72" fill="none" stroke="#ff3b3b" stroke-width="0.9"/>
<polygon points="527.66,138.9 528.25,140.19 529.66,140.35 528.61,141.31 528.89,142.7 527.66,142 526.43,142.7 526.71,141.31 525.66,140.35 527.07,140.19" fill="#ff3b3b" stroke="#ff3b3b" stroke-width="0.45"/>
<polygon points="527.66,75.1 528.25,76.39 529.66,76.55 528.61,77.51 528.89,78.9 527.66,78.2 526.43,78.9 526.71,77.51 525.66,76.55 527.07,76.39" fill="#33ccf5" stroke="#33ccf5" stroke-width="0.45"/>
<polygon points="527.66,139.9 528.25,141.19 529.66,141.35 528.61,142.31 528.89,143.7 527.66,143 526.43,143.7 526.71,142.31 525.66,141.35 527.07,141.19" fill="#3a3af5" stroke="#3a3af5" stroke-width="0.45"/>
<polygon points="527.66,76 529.96,80.02 525.36,80.02" fill="none" stroke="#33ccf5" stroke-width="0.9"/>
<polygon points="527.66,107.5 529.96,111.52 525.36,111.52" fill="none" stroke="#3a3af5" stroke-width="0.9"/>
<polygon points="527.66,57.9 528.25,59.19 529.66,59.35 528.61,60.31 528.89,61.7 527.66,61 526.43,61.7 526.71,60.31 525.66,59.35 527.07,59.19" fill="#55d655" stroke="#55d655" stroke-width="0.45"/>
<polygon points="527.66,87.3 528.25,88.59 529.66,88.75 528.61,89.71 528.89,91.1 527.66,90.4 526.43,91.1 526.71,89.71 525.66,88.75 527.07,88.59" fill="#b455e6" stroke="#b455e6" stroke-width="0.45"/>
<polygon points="527.66,117.1 529.96,121.12 525.36,121.12" fill="none" stroke="#b455e6" stroke-width="0.9"/>
<polygon points="527.66,123.9 529.96,127.92 525.36,127.92" fill="none" stroke="#55d655" stroke-width="0.9"/>
<line x1="523.16" y1="117.1" x2="532.16" y2="117.1" stroke="#000" stroke-width="1.6"/>
<circle cx="550.68" cy="138.8" r="2.5" fill="none" stroke="#ff3b3b" stroke-width="0.9"/>
<circle cx="550.68" cy="78.7" r="2.5" fill="none" stroke="#55d655" stroke-width="0.9"/>
<circle cx="550.68" cy="100" r="2.5" fill="none" stroke="#33ccf5" stroke-width="0.9"/>
<circle cx="550.68" cy="98.1" r="2.5" fill="none" stroke="#3a3af5" stroke-width="0.9"/>
<circle cx="550.68" cy="103" r="2.5" fill="none" stroke="#b455e6" stroke-width="0.9"/>
<polygon points="550.68,137 552.98,141.03 548.38,141.03" fill="none" stroke="#ff3b3b" stroke-width="0.9"/>
<polygon points="550.68,116.3 551.27,117.59 552.68,117.75 551.63,118.71 551.91,120.1 550.68,119.4 549.45,120.1 549.73,118.71 548.68,117.75 550.09,117.59" fill="#ff3b3b" stroke="#ff3b3b" stroke-width="0.45"/>
<polygon points="550.68,48.9 551.27,50.19 552.68,50.35 551.63,51.31 551.91,52.7 550.68,52 549.45,52.7 549.73,51.31 548.68,50.35 550.09,50.19" fill="#33ccf5" stroke="#33ccf5" stroke-width="0.45"/>
<polygon points="550.68,127 551.27,128.29 552.68,128.45 551.63,129.41 551.91,130.8 550.68,130.1 549.45,130.8 549.73,129.41 548.68,128.45 550.09,128.29" fill="#3a3af5" stroke="#3a3af5" stroke-width="0.45"/>
<polygon points="550.68,43 552.98,47.02 548.38,47.02" fill="none" stroke="#33ccf5" stroke-width="0.9"/>
<polygon points="550.68,89 552.98,93.02 548.38,93.02" fill="none" stroke="#3a3af5" stroke-width="0.9"/>
<polygon points="550.68,13.3 551.27,14.59 552.68,14.75 551.63,15.71 551.91,17.1 550.68,16.4 549.45,17.1 549.73,15.71 548.68,14.75 550.09,14.59" fill="#55d655" stroke="#55d655" stroke-width="0.45"/>
<polygon points="550.68,67.6 551.27,68.89 552.68,69.05 551.63,70.01 551.91,71.4 550.68,70.7 549.45,71.4 549.73,70.01 548.68,69.05 550.09,68.89" fill="#b455e6" stroke="#b455e6" stroke-width="0.45"/>
<polygon points="550.68,109.7 552.98,113.72 548.38,113.72" fill="none" stroke="#b455e6" stroke-width="0.9"/>
<polygon points="550.68,110.2 552.98,114.22 548.38,114.22" fill="none" stroke="#55d655" stroke-width="0.9"/>
<line x1="546.18" y1="101" x2="555.18" y2="101" stroke="#000" stroke-width="1.6"/>
<line x1="22.7" y1="306.8" x2="138.1" y2="306.8" stroke="#999" stroke-width="1" stroke-dasharray="2.7 2.65"/>
<rect x="22.2" y="205.8" width="115.9" height="151.5" fill="none" stroke="#555" stroke-width="1"/>
<text x="19" y="360.4" text-anchor="end">-20</text>
<line x1="22.2" y1="332.05" x2="23.7" y2="332.05" stroke="#555" stroke-width="1"/>
<text x="19" y="335.15" text-anchor="end">-10</text>
<line x1="22.2" y1="306.8" x2="23.7" y2="306.8" stroke="#555" stroke-width="1"/>
<text x="19" y="309.9" text-anchor="end">0</text>
<line x1="22.2" y1="281.55" x2="23.7" y2="281.55" stroke="#555" stroke-width="1"/>
<text x="19" y="284.65" text-anchor="end">10</text>
<line x1="22.2" y1="256.3" x2="23.7" y2="256.3" stroke="#555" stroke-width="1"/>
<text x="19" y="259.4" text-anchor="end">20</text>
<line x1="22.2" y1="231.05" x2="23.7" y2="231.05" stroke="#555" stroke-width="1"/>
<text x="19" y="234.15" text-anchor="end">30</text>
<text x="19" y="208.9" text-anchor="end">40</text>
<line x1="45.38" y1="357.3" x2="45.38" y2="355.8" stroke="#555" stroke-width="1"/>
<text transform="translate(57.18 365.8) rotate(-45)" text-anchor="end" font-size="7.3">SSP126</text>
<line x1="68.56" y1="357.3" x2="68.56" y2="355.8" stroke="#555" stroke-width="1"/>
<text transform="translate(80.36 365.8) rotate(-45)" text-anchor="end" font-size="7.3">SSP245</text>
<line x1="91.74" y1="357.3" x2="91.74" y2="355.8" stroke="#555" stroke-width="1"/>
<text transform="translate(103.54 365.8) rotate(-45)" text-anchor="end" font-size="7.3">SSP370</text>
<line x1="114.92" y1="357.3" x2="114.92" y2="355.8" stroke="#555" stroke-width="1"/>
<text transform="translate(126.72 365.8) rotate(-45)" text-anchor="end" font-size="7.3">SSP585</text>
<text x="19.2" y="201.9">(e) CDD</text>
<text transform="translate(5.4 281.55) rotate(-90)" text-anchor="middle">Future change (%)</text>
<circle cx="45.38" cy="285.2" r="2.5" fill="none" stroke="#ff3b3b" stroke-width="0.9"/>
<circle cx="45.38" cy="309" r="2.5" fill="none" stroke="#55d655" stroke-width="0.9"/>
<circle cx="45.38" cy="275.7" r="2.5" fill="none" stroke="#33ccf5" stroke-width="0.9"/>
<circle cx="45.38" cy="290.2" r="2.5" fill="none" stroke="#3a3af5" stroke-width="0.9"/>
<circle cx="45.38" cy="316.2" r="2.5" fill="none" stroke="#b455e6" stroke-width="0.9"/>
<polygon points="45.38,321.2 47.68,325.23 43.08,325.23" fill="none" stroke="#ff3b3b" stroke-width="0.9"/>
<polygon points="45.38,322.9 45.97,324.19 47.38,324.35 46.33,325.31 46.61,326.7 45.38,326 44.15,326.7 44.43,325.31 43.38,324.35 44.79,324.19" fill="#ff3b3b" stroke="#ff3b3b" stroke-width="0.45"/>
<polygon points="45.38,318.8 45.97,320.09 47.38,320.25 46.33,321.21 46.61,322.6 45.38,321.9 44.15,322.6 44.43,321.21 43.38,320.25 44.79,320.09" fill="#33ccf5" stroke="#33ccf5" stroke-width="0.45"/>
<polygon points="45.38,285.7 45.97,286.99 47.38,287.15 46.33,288.11 46.61,289.5 45.38,288.8 44.15,289.5 44.43,288.11 43.38,287.15 44.79,286.99" fill="#3a3af5" stroke="#3a3af5" stroke-width="0.45"/>
<polygon points="45.38,318.6 47.68,322.62 43.08,322.62" fill="none" stroke="#33ccf5" stroke-width="0.9"/>
<polygon points="45.38,310.7 47.68,314.73 43.08,314.73" fill="none" stroke="#3a3af5" stroke-width="0.9"/>
<polygon points="45.38,305.4 45.97,306.69 47.38,306.85 46.33,307.81 46.61,309.2 45.38,308.5 44.15,309.2 44.43,307.81 43.38,306.85 44.79,306.69" fill="#55d655" stroke="#55d655" stroke-width="0.45"/>
<polygon points="45.38,292 45.97,293.29 47.38,293.45 46.33,294.41 46.61,295.8 45.38,295.1 44.15,295.8 44.43,294.41 43.38,293.45 44.79,293.29" fill="#b455e6" stroke="#b455e6" stroke-width="0.45"/>
<polygon points="45.38,312.7 47.68,316.73 43.08,316.73" fill="none" stroke="#b455e6" stroke-width="0.9"/>
<polygon points="45.38,308.4 47.68,312.43 43.08,312.43" fill="none" stroke="#55d655" stroke-width="0.9"/>
<line x1="40.88" y1="306.7" x2="49.88" y2="306.7" stroke="#000" stroke-width="1.6"/>
<circle cx="68.56" cy="290.2" r="2.5" fill="none" stroke="#ff3b3b" stroke-width="0.9"/>
<circle cx="68.56" cy="312" r="2.5" fill="none" stroke="#55d655" stroke-width="0.9"/>
<circle cx="68.56" cy="275.2" r="2.5" fill="none" stroke="#33ccf5" stroke-width="0.9"/>
<circle cx="68.56" cy="287.4" r="2.5" fill="none" stroke="#3a3af5" stroke-width="0.9"/>
<circle cx="68.56" cy="306.3" r="2.5" fill="none" stroke="#b455e6" stroke-width="0.9"/>
<polygon points="68.56,317.7 70.86,321.73 66.26,321.73" fill="none" stroke="#ff3b3b" stroke-width="0.9"/>
<polygon points="68.56,316.8 69.15,318.09 70.56,318.25 69.51,319.21 69.79,320.6 68.56,319.9 67.33,320.6 67.61,319.21 66.56,318.25 67.97,318.09" fill="#ff3b3b" stroke="#ff3b3b" stroke-width="0.45"/>
<polygon points="68.56,310.9 69.15,312.19 70.56,312.35 69.51,313.31 69.79,314.7 68.56,314 67.33,314.7 67.61,313.31 66.56,312.35 67.97,312.19" fill="#33ccf5" stroke="#33ccf5" stroke-width="0.45"/>
<polygon points="68.56,265.1 69.15,266.39 70.56,266.55 69.51,267.51 69.79,268.9 68.56,268.2 67.33,268.9 67.61,267.51 66.56,266.55 67.97,266.39" fill="#3a3af5" stroke="#3a3af5" stroke-width="0.45"/>
<polygon points="68.56,321.2 70.86,325.23 66.26,325.23" fill="none" stroke="#33ccf5" stroke-width="0.9"/>
<polygon points="68.56,307.4 70.86,311.43 66.26,311.43" fill="none" stroke="#3a3af5" stroke-width="0.9"/>
<polygon points="68.56,295.4 69.15,296.69 70.56,296.85 69.51,297.81 69.79,299.2 68.56,298.5 67.33,299.2 67.61,297.81 66.56,296.85 67.97,296.69" fill="#55d655" stroke="#55d655" stroke-width="0.45"/>
<polygon points="68.56,239.1 69.15,240.39 70.56,240.55 69.51,241.51 69.79,242.9 68.56,242.2 67.33,242.9 67.61,241.51 66.56,240.55 67.97,240.39" fill="#b455e6" stroke="#b455e6" stroke-width="0.45"/>
<polygon points="68.56,305.7 70.86,309.73 66.26,309.73" fill="none" stroke="#b455e6" stroke-width="0.9"/>
<polygon points="68.56,313.2 70.86,317.23 66.26,317.23" fill="none" stroke="#55d655" stroke-width="0.9"/>
<line x1="64.06" y1="298.2" x2="73.06" y2="298.2" stroke="#000" stroke-width="1.6"/>
<circle cx="91.74" cy="290" r="2.5" fill="none" stroke="#ff3b3b" stroke-width="0.9"/>
<circle cx="91.74" cy="283.7" r="2.5" fill="none" stroke="#55d655" stroke-width="0.9"/>
<circle cx="91.74" cy="244.3" r="2.5" fill="none" stroke="#33ccf5" stroke-width="0.9"/>
<circle cx="91.74" cy="286.2" r="2.5" fill="none" stroke="#3a3af5" stroke-width="0.9"/>
<circle cx="91.74" cy="290" r="2.5" fill="none" stroke="#b455e6" stroke-width="0.9"/>
<polygon points="91.74,305.6 94.04,309.62 89.44,309.62" fill="none" stroke="#ff3b3b" stroke-width="0.9"/>
<polygon points="91.74,295.6 92.33,296.89 93.74,297.05 92.69,298.01 92.97,299.4 91.74,298.7 90.51,299.4 90.79,298.01 89.74,297.05 91.15,296.89" fill="#ff3b3b" stroke="#ff3b3b" stroke-width="0.45"/>
<polygon points="91.74,301.9 92.33,303.19 93.74,303.35 92.69,304.31 92.97,305.7 91.74,305 90.51,305.7 90.79,304.31 89.74,303.35 91.15,303.19" fill="#33ccf5" stroke="#33ccf5" stroke-width="0.45"/>
<polygon points="91.74,248 92.33,249.29 93.74,249.45 92.69,250.41 92.97,251.8 91.74,251.1 90.51,251.8 90.79,250.41 89.74,249.45 91.15,249.29" fill="#3a3af5" stroke="#3a3af5" stroke-width="0.45"/>
<polygon points="91.74,315 94.04,319.03 89.44,319.03" fill="none" stroke="#33ccf5" stroke-width="0.9"/>
<polygon points="91.74,299.7 94.04,303.73 89.44,303.73" fill="none" stroke="#3a3af5" stroke-width="0.9"/>
<polygon points="91.74,281.9 92.33,283.19 93.74,283.35 92.69,284.31 92.97,285.7 91.74,285 90.51,285.7 90.79,284.31 89.74,283.35 91.15,283.19" fill="#55d655" stroke="#55d655" stroke-width="0.45"/>
<polygon points="91.74,231.2 92.33,232.49 93.74,232.65 92.69,233.61 92.97,235 91.74,234.3 90.51,235 90.79,233.61 89.74,232.65 91.15,232.49" fill="#b455e6" stroke="#b455e6" stroke-width="0.45"/>
<polygon points="91.74,275.8 94.04,279.83 89.44,279.83" fill="none" stroke="#b455e6" stroke-width="0.9"/>
<polygon points="91.74,249.6 94.04,253.62 89.44,253.62" fill="none" stroke="#55d655" stroke-width="0.9"/>
<line x1="87.24" y1="281.2" x2="96.24" y2="281.2" stroke="#000" stroke-width="1.6"/>
<circle cx="114.92" cy="291.5" r="2.5" fill="none" stroke="#ff3b3b" stroke-width="0.9"/>
<circle cx="114.92" cy="263.3" r="2.5" fill="none" stroke="#55d655" stroke-width="0.9"/>
<circle cx="114.92" cy="240.4" r="2.5" fill="none" stroke="#33ccf5" stroke-width="0.9"/>
<circle cx="114.92" cy="278" r="2.5" fill="none" stroke="#3a3af5" stroke-width="0.9"/>
<circle cx="114.92" cy="290.5" r="2.5" fill="none" stroke="#b455e6" stroke-width="0.9"/>
<polygon points="114.92,303.7 117.22,307.73 112.62,307.73" fill="none" stroke="#ff3b3b" stroke-width="0.9"/>
<polygon points="114.92,311.1 115.51,312.39 116.92,312.55 115.87,313.51 116.15,314.9 114.92,314.2 113.69,314.9 113.97,313.51 112.92,312.55 114.33,312.39" fill="#ff3b3b" stroke="#ff3b3b" stroke-width="0.45"/>
<polygon points="114.92,307.9 115.51,309.19 116.92,309.35 115.87,310.31 116.15,311.7 114.92,311 113.69,311.7 113.97,310.31 112.92,309.35 114.33,309.19" fill="#33ccf5" stroke="#33ccf5" stroke-width="0.45"/>
<polygon points="114.92,246 115.51,247.29 116.92,247.45 115.87,248.41 116.15,249.8 114.92,249.1 113.69,249.8 113.97,248.41 112.92,247.45 114.33,247.29" fill="#3a3af5" stroke="#3a3af5" stroke-width="0.45"/>
<polygon points="114.92,327.9 117.22,331.93 112.62,331.93" fill="none" stroke="#33ccf5" stroke-width="0.9"/>
<polygon points="114.92,305.8 117.22,309.83 112.62,309.83" fill="none" stroke="#3a3af5" stroke-width="0.9"/>
<polygon points="114.92,293.3 115.51,294.59 116.92,294.75 115.87,295.71 116.15,297.1 114.92,296.4 113.69,297.1 113.97,295.71 112.92,294.75 114.33,294.59" fill="#55d655" stroke="#55d655" stroke-width="0.45"/>
<polygon points="114.92,219.8 115.51,221.09 116.92,221.25 115.87,222.21 116.15,223.6 114.92,222.9 113.69,223.6 113.97,222.21 112.92,221.25 114.33,221.09" fill="#b455e6" stroke="#b455e6" stroke-width="0.45"/>
<polygon points="114.92,276.7 117.22,280.73 112.62,280.73" fill="none" stroke="#b455e6" stroke-width="0.9"/>
<polygon points="114.92,301.6 117.22,305.62 112.62,305.62" fill="none" stroke="#55d655" stroke-width="0.9"/>
<line x1="110.42" y1="287.3" x2="119.42" y2="287.3" stroke="#000" stroke-width="1.6"/>
<line x1="168.7" y1="281.8" x2="283.8" y2="281.8" stroke="#555" stroke-width="1" stroke-dasharray="2.7 2.65"/>
<rect x="168.2" y="205.8" width="115.6" height="152" fill="none" stroke="#555" stroke-width="1"/>
<text x="165" y="360.9" text-anchor="end">-30</text>
<line x1="168.2" y1="332.47" x2="169.7" y2="332.47" stroke="#555" stroke-width="1"/>
<text x="165" y="335.57" text-anchor="end">-20</text>
<line x1="168.2" y1="307.13" x2="169.7" y2="307.13" stroke="#555" stroke-width="1"/>
<text x="165" y="310.23" text-anchor="end">-10</text>
<line x1="168.2" y1="281.8" x2="169.7" y2="281.8" stroke="#555" stroke-width="1"/>
<text x="165" y="284.9" text-anchor="end">0</text>
<line x1="168.2" y1="256.47" x2="169.7" y2="256.47" stroke="#555" stroke-width="1"/>
<text x="165" y="259.57" text-anchor="end">10</text>
<line x1="168.2" y1="231.13" x2="169.7" y2="231.13" stroke="#555" stroke-width="1"/>
<text x="165" y="234.23" text-anchor="end">20</text>
<text x="165" y="208.9" text-anchor="end">30</text>
<line x1="191.32" y1="357.8" x2="191.32" y2="356.3" stroke="#555" stroke-width="1"/>
<text transform="translate(203.12 366.3) rotate(-45)" text-anchor="end" font-size="7.3">SSP126</text>
<line x1="214.44" y1="357.8" x2="214.44" y2="356.3" stroke="#555" stroke-width="1"/>
<text transform="translate(226.24 366.3) rotate(-45)" text-anchor="end" font-size="7.3">SSP245</text>
<line x1="237.56" y1="357.8" x2="237.56" y2="356.3" stroke="#555" stroke-width="1"/>
<text transform="translate(249.36 366.3) rotate(-45)" text-anchor="end" font-size="7.3">SSP370</text>
<line x1="260.68" y1="357.8" x2="260.68" y2="356.3" stroke="#555" stroke-width="1"/>
<text transform="translate(272.48 366.3) rotate(-45)" text-anchor="end" font-size="7.3">SSP585</text>
<text x="165.2" y="201.9">(f) CWD</text>
<text transform="translate(151.4 281.8) rotate(-90)" text-anchor="middle">Future change (%)</text>
<circle cx="191.32" cy="275.2" r="2.5" fill="none" stroke="#ff3b3b" stroke-width="0.9"/>
<circle cx="191.32" cy="278.9" r="2.5" fill="none" stroke="#55d655" stroke-width="0.9"/>
<circle cx="191.32" cy="279" r="2.5" fill="none" stroke="#33ccf5" stroke-width="0.9"/>
<circle cx="191.32" cy="273.8" r="2.5" fill="none" stroke="#3a3af5" stroke-width="0.9"/>
<circle cx="191.32" cy="276" r="2.5" fill="none" stroke="#b455e6" stroke-width="0.9"/>
<polygon points="191.32,269 193.62,273.03 189.02,273.03" fill="none" stroke="#ff3b3b" stroke-width="0.9"/>
<polygon points="191.32,266.3 191.91,267.59 193.32,267.75 192.27,268.71 192.55,270.1 191.32,269.4 190.09,270.1 190.37,268.71 189.32,267.75 190.73,267.59" fill="#ff3b3b" stroke="#ff3b3b" stroke-width="0.45"/>
<polygon points="191.32,287.7 191.91,288.99 193.32,289.15 192.27,290.11 192.55,291.5 191.32,290.8 190.09,291.5 190.37,290.11 189.32,289.15 190.73,288.99" fill="#33ccf5" stroke="#33ccf5" stroke-width="0.45"/>
<polygon points="191.32,284 191.91,285.29 193.32,285.45 192.27,286.41 192.55,287.8 191.32,287.1 190.09,287.8 190.37,286.41 189.32,285.45 190.73,285.29" fill="#3a3af5" stroke="#3a3af5" stroke-width="0.45"/>
<polygon points="191.32,267.9 193.62,271.93 189.02,271.93" fill="none" stroke="#33ccf5" stroke-width="0.9"/>
<polygon points="191.32,278 193.62,282.03 189.02,282.03" fill="none" stroke="#3a3af5" stroke-width="0.9"/>
<polygon points="191.32,280.4 191.91,281.69 193.32,281.85 192.27,282.81 192.55,284.2 191.32,283.5 190.09,284.2 190.37,282.81 189.32,281.85 190.73,281.69" fill="#55d655" stroke="#55d655" stroke-width="0.45"/>
<polygon points="191.32,282.4 191.91,283.69 193.32,283.85 192.27,284.81 192.55,286.2 191.32,285.5 190.09,286.2 190.37,284.81 189.32,283.85 190.73,283.69" fill="#b455e6" stroke="#b455e6" stroke-width="0.45"/>
<polygon points="191.32,281.6 193.62,285.62 189.02,285.62" fill="none" stroke="#b455e6" stroke-width="0.9"/>
<polygon points="191.32,278.7 193.62,282.73 189.02,282.73" fill="none" stroke="#55d655" stroke-width="0.9"/>
<line x1="186.82" y1="282.1" x2="195.82" y2="282.1" stroke="#000" stroke-width="1.6"/>
<circle cx="214.44" cy="279" r="2.5" fill="none" stroke="#ff3b3b" stroke-width="0.9"/>
<circle cx="214.44" cy="285.5" r="2.5" fill="none" stroke="#55d655" stroke-width="0.9"/>
<circle cx="214.44" cy="291" r="2.5" fill="none" stroke="#33ccf5" stroke-width="0.9"/>
<circle cx="214.44" cy="305.1" r="2.5" fill="none" stroke="#3a3af5" stroke-width="0.9"/>
<circle cx="214.44" cy="308" r="2.5" fill="none" stroke="#b455e6" stroke-width="0.9"/>
<polygon points="214.44,270 216.74,274.03 212.14,274.03" fill="none" stroke="#ff3b3b" stroke-width="0.9"/>
<polygon points="214.44,268.2 215.03,269.49 216.44,269.65 215.39,270.61 215.67,272 214.44,271.3 213.21,272 213.49,270.61 212.44,269.65 213.85,269.49" fill="#ff3b3b" stroke="#ff3b3b" stroke-width="0.45"/>
<polygon points="214.44,297.9 215.03,299.19 216.44,299.35 215.39,300.31 215.67,301.7 214.44,301 213.21,301.7 213.49,300.31 212.44,299.35 213.85,299.19" fill="#33ccf5" stroke="#33ccf5" stroke-width="0.45"/>
<polygon points="214.44,283.4 215.03,284.69 216.44,284.85 215.39,285.81 215.67,287.2 214.44,286.5 213.21,287.2 213.49,285.81 212.44,284.85 213.85,284.69" fill="#3a3af5" stroke="#3a3af5" stroke-width="0.45"/>
<polygon points="214.44,261.4 216.74,265.43 212.14,265.43" fill="none" stroke="#33ccf5" stroke-width="0.9"/>
<polygon points="214.44,271.6 216.74,275.62 212.14,275.62" fill="none" stroke="#3a3af5" stroke-width="0.9"/>
<polygon points="214.44,291 215.03,292.29 216.44,292.45 215.39,293.41 215.67,294.8 214.44,294.1 213.21,294.8 213.49,293.41 212.44,292.45 213.85,292.29" fill="#55d655" stroke="#55d655" stroke-width="0.45"/>
<polygon points="214.44,306.5 215.03,307.79 216.44,307.95 215.39,308.91 215.67,310.3 214.44,309.6 213.21,310.3 213.49,308.91 212.44,307.95 213.85,307.79" fill="#b455e6" stroke="#b455e6" stroke-width="0.45"/>
<polygon points="214.44,276 216.74,280.03 212.14,280.03" fill="none" stroke="#b455e6" stroke-width="0.9"/>
<polygon points="214.44,292.7 216.74,296.73 212.14,296.73" fill="none" stroke="#55d655" stroke-width="0.9"/>
<line x1="209.94" y1="289.4" x2="218.94" y2="289.4" stroke="#000" stroke-width="1.6"/>
<circle cx="237.56" cy="290" r="2.5" fill="none" stroke="#ff3b3b" stroke-width="0.9"/>
<circle cx="237.56" cy="301.5" r="2.5" fill="none" stroke="#55d655" stroke-width="0.9"/>
<circle cx="237.56" cy="302" r="2.5" fill="none" stroke="#33ccf5" stroke-width="0.9"/>
<circle cx="237.56" cy="323.6" r="2.5" fill="none" stroke="#3a3af5" stroke-width="0.9"/>
<circle cx="237.56" cy="319.1" r="2.5" fill="none" stroke="#b455e6" stroke-width="0.9"/>
<polygon points="237.56,268.7 239.86,272.73 235.26,272.73" fill="none" stroke="#ff3b3b" stroke-width="0.9"/>
<polygon points="237.56,286.3 238.15,287.59 239.56,287.75 238.51,288.71 238.79,290.1 237.56,289.4 236.33,290.1 236.61,288.71 235.56,287.75 236.97,287.59" fill="#ff3b3b" stroke="#ff3b3b" stroke-width="0.45"/>
<polygon points="237.56,271.8 238.15,273.09 239.56,273.25 238.51,274.21 238.79,275.6 237.56,274.9 236.33,275.6 236.61,274.21 235.56,273.25 236.97,273.09" fill="#33ccf5" stroke="#33ccf5" stroke-width="0.45"/>
<polygon points="237.56,302.1 238.15,303.39 239.56,303.55 238.51,304.51 238.79,305.9 237.56,305.2 236.33,305.9 236.61,304.51 235.56,303.55 236.97,303.39" fill="#3a3af5" stroke="#3a3af5" stroke-width="0.45"/>
<polygon points="237.56,257.1 239.86,261.12 235.26,261.12" fill="none" stroke="#33ccf5" stroke-width="0.9"/>
<polygon points="237.56,276.5 239.86,280.53 235.26,280.53" fill="none" stroke="#3a3af5" stroke-width="0.9"/>
<polygon points="237.56,298.9 238.15,300.19 239.56,300.35 238.51,301.31 238.79,302.7 237.56,302 236.33,302.7 236.61,301.31 235.56,300.35 236.97,300.19" fill="#55d655" stroke="#55d655" stroke-width="0.45"/>
<polygon points="237.56,325.5 238.15,326.79 239.56,326.95 238.51,327.91 238.79,329.3 237.56,328.6 236.33,329.3 236.61,327.91 235.56,326.95 236.97,326.79" fill="#b455e6" stroke="#b455e6" stroke-width="0.45"/>
<polygon points="237.56,288.5 239.86,292.53 235.26,292.53" fill="none" stroke="#b455e6" stroke-width="0.9"/>
<polygon points="237.56,312 239.86,316.03 235.26,316.03" fill="none" stroke="#55d655" stroke-width="0.9"/>
<line x1="233.06" y1="299.1" x2="242.06" y2="299.1" stroke="#000" stroke-width="1.6"/>
<circle cx="260.68" cy="283" r="2.5" fill="none" stroke="#ff3b3b" stroke-width="0.9"/>
<circle cx="260.68" cy="302.4" r="2.5" fill="none" stroke="#55d655" stroke-width="0.9"/>
<circle cx="260.68" cy="306.3" r="2.5" fill="none" stroke="#33ccf5" stroke-width="0.9"/>
<circle cx="260.68" cy="329.7" r="2.5" fill="none" stroke="#3a3af5" stroke-width="0.9"/>
<circle cx="260.68" cy="323" r="2.5" fill="none" stroke="#b455e6" stroke-width="0.9"/>
<polygon points="260.68,267.7 262.98,271.73 258.38,271.73" fill="none" stroke="#ff3b3b" stroke-width="0.9"/>
<polygon points="260.68,290.9 261.27,292.19 262.68,292.35 261.63,293.31 261.91,294.7 260.68,294 259.45,294.7 259.73,293.31 258.68,292.35 260.09,292.19" fill="#ff3b3b" stroke="#ff3b3b" stroke-width="0.45"/>
<polygon points="260.68,293.9 261.27,295.19 262.68,295.35 261.63,296.31 261.91,297.7 260.68,297 259.45,297.7 259.73,296.31 258.68,295.35 260.09,295.19" fill="#33ccf5" stroke="#33ccf5" stroke-width="0.45"/>
<polygon points="260.68,273.8 261.27,275.09 262.68,275.25 261.63,276.21 261.91,277.6 260.68,276.9 259.45,277.6 259.73,276.21 258.68,275.25 260.09,275.09" fill="#3a3af5" stroke="#3a3af5" stroke-width="0.45"/>
<polygon points="260.68,251.7 262.98,255.72 258.38,255.72" fill="none" stroke="#33ccf5" stroke-width="0.9"/>
<polygon points="260.68,288.7 262.98,292.73 258.38,292.73" fill="none" stroke="#3a3af5" stroke-width="0.9"/>
<polygon points="260.68,298.9 261.27,300.19 262.68,300.35 261.63,301.31 261.91,302.7 260.68,302 259.45,302.7 259.73,301.31 258.68,300.35 260.09,300.19" fill="#55d655" stroke="#55d655" stroke-width="0.45"/>
<polygon points="260.68,331.2 261.27,332.49 262.68,332.65 261.63,333.61 261.91,335 260.68,334.3 259.45,335 259.73,333.61 258.68,332.65 260.09,332.49" fill="#b455e6" stroke="#b455e6" stroke-width="0.45"/>
<polygon points="260.68,289.7 262.98,293.73 258.38,293.73" fill="none" stroke="#b455e6" stroke-width="0.9"/>
<polygon points="260.68,316.8 262.98,320.83 258.38,320.83" fill="none" stroke="#55d655" stroke-width="0.9"/>
<line x1="256.18" y1="298.7" x2="265.18" y2="298.7" stroke="#000" stroke-width="1.6"/>
<line x1="312.9" y1="314.7" x2="428.1" y2="314.7" stroke="#555" stroke-width="1" stroke-dasharray="2.7 2.65"/>
<rect x="312.4" y="206.2" width="115.7" height="151.9" fill="none" stroke="#555" stroke-width="1"/>
<text x="309.2" y="361.2" text-anchor="end">-10</text>
<line x1="312.4" y1="336.4" x2="313.9" y2="336.4" stroke="#555" stroke-width="1"/>
<text x="309.2" y="339.5" text-anchor="end">-5</text>
<line x1="312.4" y1="314.7" x2="313.9" y2="314.7" stroke="#555" stroke-width="1"/>
<text x="309.2" y="317.8" text-anchor="end">0</text>
<line x1="312.4" y1="293" x2="313.9" y2="293" stroke="#555" stroke-width="1"/>
<text x="309.2" y="296.1" text-anchor="end">5</text>
<line x1="312.4" y1="271.3" x2="313.9" y2="271.3" stroke="#555" stroke-width="1"/>
<text x="309.2" y="274.4" text-anchor="end">10</text>
<line x1="312.4" y1="249.6" x2="313.9" y2="249.6" stroke="#555" stroke-width="1"/>
<text x="309.2" y="252.7" text-anchor="end">15</text>
<line x1="312.4" y1="227.9" x2="313.9" y2="227.9" stroke="#555" stroke-width="1"/>
<text x="309.2" y="231" text-anchor="end">20</text>
<text x="309.2" y="209.3" text-anchor="end">25</text>
<line x1="335.54" y1="358.1" x2="335.54" y2="356.6" stroke="#555" stroke-width="1"/>
<text transform="translate(347.34 366.6) rotate(-45)" text-anchor="end" font-size="7.3">SSP126</text>
<line x1="358.68" y1="358.1" x2="358.68" y2="356.6" stroke="#555" stroke-width="1"/>
<text transform="translate(370.48 366.6) rotate(-45)" text-anchor="end" font-size="7.3">SSP245</text>
<line x1="381.82" y1="358.1" x2="381.82" y2="356.6" stroke="#555" stroke-width="1"/>
<text transform="translate(393.62 366.6) rotate(-45)" text-anchor="end" font-size="7.3">SSP370</text>
<line x1="404.96" y1="358.1" x2="404.96" y2="356.6" stroke="#555" stroke-width="1"/>
<text transform="translate(416.76 366.6) rotate(-45)" text-anchor="end" font-size="7.3">SSP585</text>
<text x="309.4" y="202.3">(g) PRCPTOT</text>
<text transform="translate(295.6 282.15) rotate(-90)" text-anchor="middle">Future change (%)</text>
<circle cx="335.54" cy="298.2" r="2.5" fill="none" stroke="#ff3b3b" stroke-width="0.9"/>
<circle cx="335.54" cy="285.8" r="2.5" fill="none" stroke="#55d655" stroke-width="0.9"/>
<circle cx="335.54" cy="306.5" r="2.5" fill="none" stroke="#33ccf5" stroke-width="0.9"/>
<circle cx="335.54" cy="289.5" r="2.5" fill="none" stroke="#3a3af5" stroke-width="0.9"/>
<circle cx="335.54" cy="290.5" r="2.5" fill="none" stroke="#b455e6" stroke-width="0.9"/>
<polygon points="335.54,305.7 337.84,309.73 333.24,309.73" fill="none" stroke="#ff3b3b" stroke-width="0.9"/>
<polygon points="335.54,289.4 336.13,290.69 337.54,290.85 336.49,291.81 336.77,293.2 335.54,292.5 334.31,293.2 334.59,291.81 333.54,290.85 334.95,290.69" fill="#ff3b3b" stroke="#ff3b3b" stroke-width="0.45"/>
<polygon points="335.54,305.9 336.13,307.19 337.54,307.35 336.49,308.31 336.77,309.7 335.54,309 334.31,309.7 334.59,308.31 333.54,307.35 334.95,307.19" fill="#33ccf5" stroke="#33ccf5" stroke-width="0.45"/>
<polygon points="335.54,300.6 336.13,301.89 337.54,302.05 336.49,303.01 336.77,304.4 335.54,303.7 334.31,304.4 334.59,303.01 333.54,302.05 334.95,301.89" fill="#3a3af5" stroke="#3a3af5" stroke-width="0.45"/>
<polygon points="335.54,305.7 337.84,309.73 333.24,309.73" fill="none" stroke="#33ccf5" stroke-width="0.9"/>
<polygon points="335.54,281.7 337.84,285.73 333.24,285.73" fill="none" stroke="#3a3af5" stroke-width="0.9"/>
<polygon points="335.54,290.7 336.13,291.99 337.54,292.15 336.49,293.11 336.77,294.5 335.54,293.8 334.31,294.5 334.59,293.11 333.54,292.15 334.95,291.99" fill="#55d655" stroke="#55d655" stroke-width="0.45"/>
<polygon points="335.54,289.9 336.13,291.19 337.54,291.35 336.49,292.31 336.77,293.7 335.54,293 334.31,293.7 334.59,292.31 333.54,291.35 334.95,291.19" fill="#b455e6" stroke="#b455e6" stroke-width="0.45"/>
<polygon points="335.54,281.2 337.84,285.23 333.24,285.23" fill="none" stroke="#b455e6" stroke-width="0.9"/>
<polygon points="335.54,284.7 337.84,288.73 333.24,288.73" fill="none" stroke="#55d655" stroke-width="0.9"/>
<line x1="331.04" y1="295.3" x2="340.04" y2="295.3" stroke="#000" stroke-width="1.6"/>
<circle cx="358.68" cy="298.2" r="2.5" fill="none" stroke="#ff3b3b" stroke-width="0.9"/>
<circle cx="358.68" cy="272.8" r="2.5" fill="none" stroke="#55d655" stroke-width="0.9"/>
<circle cx="358.68" cy="305.8" r="2.5" fill="none" stroke="#33ccf5" stroke-width="0.9"/>
<circle cx="358.68" cy="297" r="2.5" fill="none" stroke="#3a3af5" stroke-width="0.9"/>
<circle cx="358.68" cy="293.1" r="2.5" fill="none" stroke="#b455e6" stroke-width="0.9"/>
<polygon points="358.68,314.6 360.98,318.62 356.38,318.62" fill="none" stroke="#ff3b3b" stroke-width="0.9"/>
<polygon points="358.68,283.9 359.27,285.19 360.68,285.35 359.63,286.31 359.91,287.7 358.68,287 357.45,287.7 357.73,286.31 356.68,285.35 358.09,285.19" fill="#ff3b3b" stroke="#ff3b3b" stroke-width="0.45"/>
<polygon points="358.68,297.8 359.27,299.09 360.68,299.25 359.63,300.21 359.91,301.6 358.68,300.9 357.45,301.6 357.73,300.21 356.68,299.25 358.09,299.09" fill="#33ccf5" stroke="#33ccf5" stroke-width="0.45"/>
<polygon points="358.68,312.2 359.27,313.49 360.68,313.65 359.63,314.61 359.91,316 358.68,315.3 357.45,316 357.73,314.61 356.68,313.65 358.09,313.49" fill="#3a3af5" stroke="#3a3af5" stroke-width="0.45"/>
<polygon points="358.68,271.3 360.98,275.33 356.38,275.33" fill="none" stroke="#33ccf5" stroke-width="0.9"/>
<polygon points="358.68,276.4 360.98,280.43 356.38,280.43" fill="none" stroke="#3a3af5" stroke-width="0.9"/>
<polygon points="358.68,284.3 359.27,285.59 360.68,285.75 359.63,286.71 359.91,288.1 358.68,287.4 357.45,288.1 357.73,286.71 356.68,285.75 358.09,285.59" fill="#55d655" stroke="#55d655" stroke-width="0.45"/>
<polygon points="358.68,287.9 359.27,289.19 360.68,289.35 359.63,290.31 359.91,291.7 358.68,291 357.45,291.7 357.73,290.31 356.68,289.35 358.09,289.19" fill="#b455e6" stroke="#b455e6" stroke-width="0.45"/>
<polygon points="358.68,263.2 360.98,267.23 356.38,267.23" fill="none" stroke="#b455e6" stroke-width="0.9"/>
<polygon points="358.68,284.7 360.98,288.73 356.38,288.73" fill="none" stroke="#55d655" stroke-width="0.9"/>
<line x1="354.18" y1="294.3" x2="363.18" y2="294.3" stroke="#000" stroke-width="1.6"/>
<circle cx="381.82" cy="290.3" r="2.5" fill="none" stroke="#ff3b3b" stroke-width="0.9"/>
<circle cx="381.82" cy="277.7" r="2.5" fill="none" stroke="#55d655" stroke-width="0.9"/>
<circle cx="381.82" cy="322.3" r="2.5" fill="none" stroke="#33ccf5" stroke-width="0.9"/>
<circle cx="381.82" cy="272.2" r="2.5" fill="none" stroke="#3a3af5" stroke-width="0.9"/>
<circle cx="381.82" cy="295.1" r="2.5" fill="none" stroke="#b455e6" stroke-width="0.9"/>
<polygon points="381.82,310.7 384.12,314.73 379.52,314.73" fill="none" stroke="#ff3b3b" stroke-width="0.9"/>
<polygon points="381.82,300.6 382.41,301.89 383.82,302.05 382.77,303.01 383.05,304.4 381.82,303.7 380.59,304.4 380.87,303.01 379.82,302.05 381.23,301.89" fill="#ff3b3b" stroke="#ff3b3b" stroke-width="0.45"/>
<polygon points="381.82,320.2 382.41,321.49 383.82,321.65 382.77,322.61 383.05,324 381.82,323.3 380.59,324 380.87,322.61 379.82,321.65 381.23,321.49" fill="#33ccf5" stroke="#33ccf5" stroke-width="0.45"/>
<polygon points="381.82,327.9 382.41,329.19 383.82,329.35 382.77,330.31 383.05,331.7 381.82,331 380.59,331.7 380.87,330.31 379.82,329.35 381.23,329.19" fill="#3a3af5" stroke="#3a3af5" stroke-width="0.45"/>
<polygon points="381.82,253.2 384.12,257.23 379.52,257.23" fill="none" stroke="#33ccf5" stroke-width="0.9"/>
<polygon points="381.82,269.9 384.12,273.93 379.52,273.93" fill="none" stroke="#3a3af5" stroke-width="0.9"/>
<polygon points="381.82,289.7 382.41,290.99 383.82,291.15 382.77,292.11 383.05,293.5 381.82,292.8 380.59,293.5 380.87,292.11 379.82,291.15 381.23,290.99" fill="#55d655" stroke="#55d655" stroke-width="0.45"/>
<polygon points="381.82,298.9 382.41,300.19 383.82,300.35 382.77,301.31 383.05,302.7 381.82,302 380.59,302.7 380.87,301.31 379.82,300.35 381.23,300.19" fill="#b455e6" stroke="#b455e6" stroke-width="0.45"/>
<polygon points="381.82,261.2 384.12,265.23 379.52,265.23" fill="none" stroke="#b455e6" stroke-width="0.9"/>
<polygon points="381.82,281.9 384.12,285.93 379.52,285.93" fill="none" stroke="#55d655" stroke-width="0.9"/>
<line x1="377.32" y1="298.4" x2="386.32" y2="298.4" stroke="#000" stroke-width="1.6"/>
<circle cx="404.96" cy="284.5" r="2.5" fill="none" stroke="#ff3b3b" stroke-width="0.9"/>
<circle cx="404.96" cy="256.8" r="2.5" fill="none" stroke="#55d655" stroke-width="0.9"/>
<circle cx="404.96" cy="314.7" r="2.5" fill="none" stroke="#33ccf5" stroke-width="0.9"/>
<circle cx="404.96" cy="259" r="2.5" fill="none" stroke="#3a3af5" stroke-width="0.9"/>
<circle cx="404.96" cy="286" r="2.5" fill="none" stroke="#b455e6" stroke-width="0.9"/>
<polygon points="404.96,301.1 407.26,305.12 402.66,305.12" fill="none" stroke="#ff3b3b" stroke-width="0.9"/>
<polygon points="404.96,277.5 405.55,278.79 406.96,278.95 405.91,279.91 406.19,281.3 404.96,280.6 403.73,281.3 404.01,279.91 402.96,278.95 404.37,278.79" fill="#ff3b3b" stroke="#ff3b3b" stroke-width="0.45"/>
<polygon points="404.96,255.9 405.55,257.19 406.96,257.35 405.91,258.31 406.19,259.7 404.96,259 403.73,259.7 404.01,258.31 402.96,257.35 404.37,257.19" fill="#33ccf5" stroke="#33ccf5" stroke-width="0.45"/>
<polygon points="404.96,306.5 405.55,307.79 406.96,307.95 405.91,308.91 406.19,310.3 404.96,309.6 403.73,310.3 404.01,308.91 402.96,307.95 404.37,307.79" fill="#3a3af5" stroke="#3a3af5" stroke-width="0.45"/>
<polygon points="404.96,237.9 407.26,241.92 402.66,241.92" fill="none" stroke="#33ccf5" stroke-width="0.9"/>
<polygon points="404.96,257.2 407.26,261.23 402.66,261.23" fill="none" stroke="#3a3af5" stroke-width="0.9"/>
<polygon points="404.96,260.2 405.55,261.49 406.96,261.65 405.91,262.61 406.19,264 404.96,263.3 403.73,264 404.01,262.61 402.96,261.65 404.37,261.49" fill="#55d655" stroke="#55d655" stroke-width="0.45"/>
<polygon points="404.96,283 405.55,284.29 406.96,284.45 405.91,285.41 406.19,286.8 404.96,286.1 403.73,286.8 404.01,285.41 402.96,284.45 404.37,284.29" fill="#b455e6" stroke="#b455e6" stroke-width="0.45"/>
<polygon points="404.96,242.7 407.26,246.72 402.66,246.72" fill="none" stroke="#b455e6" stroke-width="0.9"/>
<polygon points="404.96,265.5 407.26,269.53 402.66,269.53" fill="none" stroke="#55d655" stroke-width="0.9"/>
<line x1="400.46" y1="283.5" x2="409.46" y2="283.5" stroke="#000" stroke-width="1.6"/>
<line x1="459.8" y1="332.83" x2="574.2" y2="332.83" stroke="#888" stroke-width="1" stroke-dasharray="2.7 2.65"/>
<rect x="459.3" y="206.5" width="114.9" height="151.6" fill="none" stroke="#555" stroke-width="1"/>
<text x="456.1" y="361.2" text-anchor="end">-40</text>
<line x1="459.3" y1="332.83" x2="460.8" y2="332.83" stroke="#555" stroke-width="1"/>
<text x="456.1" y="335.93" text-anchor="end">0</text>
<line x1="459.3" y1="307.57" x2="460.8" y2="307.57" stroke="#555" stroke-width="1"/>
<text x="456.1" y="310.67" text-anchor="end">40</text>
<line x1="459.3" y1="282.3" x2="460.8" y2="282.3" stroke="#555" stroke-width="1"/>
<text x="456.1" y="285.4" text-anchor="end">80</text>
<line x1="459.3" y1="257.03" x2="460.8" y2="257.03" stroke="#555" stroke-width="1"/>
<text x="456.1" y="260.13" text-anchor="end">120</text>
<line x1="459.3" y1="231.77" x2="460.8" y2="231.77" stroke="#555" stroke-width="1"/>
<text x="456.1" y="234.87" text-anchor="end">160</text>
<text x="456.1" y="209.6" text-anchor="end">200</text>
<line x1="482.28" y1="358.1" x2="482.28" y2="356.6" stroke="#555" stroke-width="1"/>
<text transform="translate(494.08 366.6) rotate(-45)" text-anchor="end" font-size="7.3">SSP126</text>
<line x1="505.26" y1="358.1" x2="505.26" y2="356.6" stroke="#555" stroke-width="1"/>
<text transform="translate(517.06 366.6) rotate(-45)" text-anchor="end" font-size="7.3">SSP245</text>
<line x1="528.24" y1="358.1" x2="528.24" y2="356.6" stroke="#555" stroke-width="1"/>
<text transform="translate(540.04 366.6) rotate(-45)" text-anchor="end" font-size="7.3">SSP370</text>
<line x1="551.22" y1="358.1" x2="551.22" y2="356.6" stroke="#555" stroke-width="1"/>
<text transform="translate(563.02 366.6) rotate(-45)" text-anchor="end" font-size="7.3">SSP585</text>
<text x="456.3" y="202.6">(h) R95pTOT</text>
<text transform="translate(440.8 282.3) rotate(-90)" text-anchor="middle">Future change (%)</text>
<circle cx="482.28" cy="292.4" r="2.5" fill="none" stroke="#ff3b3b" stroke-width="0.9"/>
<circle cx="482.28" cy="280" r="2.5" fill="none" stroke="#55d655" stroke-width="0.9"/>
<circle cx="482.28" cy="264.4" r="2.5" fill="none" stroke="#33ccf5" stroke-width="0.9"/>
<circle cx="482.28" cy="306.3" r="2.5" fill="none" stroke="#3a3af5" stroke-width="0.9"/>
<circle cx="482.28" cy="310.2" r="2.5" fill="none" stroke="#b455e6" stroke-width="0.9"/>
<polygon points="482.28,311.3 484.58,315.33 479.98,315.33" fill="none" stroke="#ff3b3b" stroke-width="0.9"/>
<polygon points="482.28,311.5 482.87,312.79 484.28,312.95 483.23,313.91 483.51,315.3 482.28,314.6 481.05,315.3 481.33,313.91 480.28,312.95 481.69,312.79" fill="#ff3b3b" stroke="#ff3b3b" stroke-width="0.45"/>
<polygon points="482.28,262.3 482.87,263.59 484.28,263.75 483.23,264.71 483.51,266.1 482.28,265.4 481.05,266.1 481.33,264.71 480.28,263.75 481.69,263.59" fill="#33ccf5" stroke="#33ccf5" stroke-width="0.45"/>
<polygon points="482.28,304.7 482.87,305.99 484.28,306.15 483.23,307.11 483.51,308.5 482.28,307.8 481.05,308.5 481.33,307.11 480.28,306.15 481.69,305.99" fill="#3a3af5" stroke="#3a3af5" stroke-width="0.45"/>
<polygon points="482.28,262.1 484.58,266.12 479.98,266.12" fill="none" stroke="#33ccf5" stroke-width="0.9"/>
<polygon points="482.28,283.3 484.58,287.33 479.98,287.33" fill="none" stroke="#3a3af5" stroke-width="0.9"/>
<polygon points="482.28,300.6 482.87,301.89 484.28,302.05 483.23,303.01 483.51,304.4 482.28,303.7 481.05,304.4 481.33,303.01 480.28,302.05 481.69,301.89" fill="#55d655" stroke="#55d655" stroke-width="0.45"/>
<polygon points="482.28,278.4 482.87,279.69 484.28,279.85 483.23,280.81 483.51,282.2 482.28,281.5 481.05,282.2 481.33,280.81 480.28,279.85 481.69,279.69" fill="#b455e6" stroke="#b455e6" stroke-width="0.45"/>
<polygon points="482.28,278.7 484.58,282.73 479.98,282.73" fill="none" stroke="#b455e6" stroke-width="0.9"/>
<polygon points="482.28,258.7 484.58,262.73 479.98,262.73" fill="none" stroke="#55d655" stroke-width="0.9"/>
<line x1="477.78" y1="290.2" x2="486.78" y2="290.2" stroke="#000" stroke-width="1.6"/>
<circle cx="505.26" cy="287.5" r="2.5" fill="none" stroke="#ff3b3b" stroke-width="0.9"/>
<circle cx="505.26" cy="270" r="2.5" fill="none" stroke="#55d655" stroke-width="0.9"/>
<circle cx="505.26" cy="254.5" r="2.5" fill="none" stroke="#33ccf5" stroke-width="0.9"/>
<circle cx="505.26" cy="303" r="2.5" fill="none" stroke="#3a3af5" stroke-width="0.9"/>
<circle cx="505.26" cy="305.9" r="2.5" fill="none" stroke="#b455e6" stroke-width="0.9"/>
<polygon points="505.26,277.7 507.56,281.73 502.96,281.73" fill="none" stroke="#ff3b3b" stroke-width="0.9"/>
<polygon points="505.26,306.1 505.85,307.39 507.26,307.55 506.21,308.51 506.49,309.9 505.26,309.2 504.03,309.9 504.31,308.51 503.26,307.55 504.67,307.39" fill="#ff3b3b" stroke="#ff3b3b" stroke-width="0.45"/>
<polygon points="505.26,295.1 505.85,296.39 507.26,296.55 506.21,297.51 506.49,298.9 505.26,298.2 504.03,298.9 504.31,297.51 503.26,296.55 504.67,296.39" fill="#33ccf5" stroke="#33ccf5" stroke-width="0.45"/>
<polygon points="505.26,304.4 505.85,305.69 507.26,305.85 506.21,306.81 506.49,308.2 505.26,307.5 504.03,308.2 504.31,306.81 503.26,305.85 504.67,305.69" fill="#3a3af5" stroke="#3a3af5" stroke-width="0.45"/>
<polygon points="505.26,262.5 507.56,266.53 502.96,266.53" fill="none" stroke="#33ccf5" stroke-width="0.9"/>
<polygon points="505.26,276.7 507.56,280.73 502.96,280.73" fill="none" stroke="#3a3af5" stroke-width="0.9"/>
<polygon points="505.26,289.3 505.85,290.59 507.26,290.75 506.21,291.71 506.49,293.1 505.26,292.4 504.03,293.1 504.31,291.71 503.26,290.75 504.67,290.59" fill="#55d655" stroke="#55d655" stroke-width="0.45"/>
<polygon points="505.26,273.2 505.85,274.49 507.26,274.65 506.21,275.61 506.49,277 505.26,276.3 504.03,277 504.31,275.61 503.26,274.65 504.67,274.49" fill="#b455e6" stroke="#b455e6" stroke-width="0.45"/>
<polygon points="505.26,296.7 507.56,300.73 502.96,300.73" fill="none" stroke="#b455e6" stroke-width="0.9"/>
<polygon points="505.26,245.8 507.56,249.82 502.96,249.82" fill="none" stroke="#55d655" stroke-width="0.9"/>
<line x1="500.76" y1="283" x2="509.76" y2="283" stroke="#000" stroke-width="1.6"/>
<circle cx="528.24" cy="284.5" r="2.5" fill="none" stroke="#ff3b3b" stroke-width="0.9"/>
<circle cx="528.24" cy="254.5" r="2.5" fill="none" stroke="#55d655" stroke-width="0.9"/>
<circle cx="528.24" cy="255.3" r="2.5" fill="none" stroke="#33ccf5" stroke-width="0.9"/>
<circle cx="528.24" cy="300.5" r="2.5" fill="none" stroke="#3a3af5" stroke-width="0.9"/>
<circle cx="528.24" cy="299" r="2.5" fill="none" stroke="#b455e6" stroke-width="0.9"/>
<polygon points="528.24,282.7 530.54,286.73 525.94,286.73" fill="none" stroke="#ff3b3b" stroke-width="0.9"/>
<polygon points="528.24,308.4 528.83,309.69 530.24,309.85 529.19,310.81 529.47,312.2 528.24,311.5 527.01,312.2 527.29,310.81 526.24,309.85 527.65,309.69" fill="#ff3b3b" stroke="#ff3b3b" stroke-width="0.45"/>
<polygon points="528.24,288.4 528.83,289.69 530.24,289.85 529.19,290.81 529.47,292.2 528.24,291.5 527.01,292.2 527.29,290.81 526.24,289.85 527.65,289.69" fill="#33ccf5" stroke="#33ccf5" stroke-width="0.45"/>
<polygon points="528.24,303.8 528.83,305.09 530.24,305.25 529.19,306.21 529.47,307.6 528.24,306.9 527.01,307.6 527.29,306.21 526.24,305.25 527.65,305.09" fill="#3a3af5" stroke="#3a3af5" stroke-width="0.45"/>
<polygon points="528.24,242.9 530.54,246.92 525.94,246.92" fill="none" stroke="#33ccf5" stroke-width="0.9"/>
<polygon points="528.24,272.1 530.54,276.12 525.94,276.12" fill="none" stroke="#3a3af5" stroke-width="0.9"/>
<polygon points="528.24,282.9 528.83,284.19 530.24,284.35 529.19,285.31 529.47,286.7 528.24,286 527.01,286.7 527.29,285.31 526.24,284.35 527.65,284.19" fill="#55d655" stroke="#55d655" stroke-width="0.45"/>
<polygon points="528.24,266.6 528.83,267.89 530.24,268.05 529.19,269.01 529.47,270.4 528.24,269.7 527.01,270.4 527.29,269.01 526.24,268.05 527.65,267.89" fill="#b455e6" stroke="#b455e6" stroke-width="0.45"/>
<polygon points="528.24,292.8 530.54,296.83 525.94,296.83" fill="none" stroke="#b455e6" stroke-width="0.9"/>
<polygon points="528.24,227.8 530.54,231.82 525.94,231.82" fill="none" stroke="#55d655" stroke-width="0.9"/>
<line x1="523.74" y1="276.7" x2="532.74" y2="276.7" stroke="#000" stroke-width="1.6"/>
<circle cx="551.22" cy="283.9" r="2.5" fill="none" stroke="#ff3b3b" stroke-width="0.9"/>
<circle cx="551.22" cy="249.4" r="2.5" fill="none" stroke="#55d655" stroke-width="0.9"/>
<circle cx="551.22" cy="244.1" r="2.5" fill="none" stroke="#33ccf5" stroke-width="0.9"/>
<circle cx="551.22" cy="292.4" r="2.5" fill="none" stroke="#3a3af5" stroke-width="0.9"/>
<circle cx="551.22" cy="295.9" r="2.5" fill="none" stroke="#b455e6" stroke-width="0.9"/>
<polygon points="551.22,282.7 553.52,286.73 548.92,286.73" fill="none" stroke="#ff3b3b" stroke-width="0.9"/>
<polygon points="551.22,299.5 551.81,300.79 553.22,300.95 552.17,301.91 552.45,303.3 551.22,302.6 549.99,303.3 550.27,301.91 549.22,300.95 550.63,300.79" fill="#ff3b3b" stroke="#ff3b3b" stroke-width="0.45"/>
<polygon points="551.22,278.1 551.81,279.39 553.22,279.55 552.17,280.51 552.45,281.9 551.22,281.2 549.99,281.9 550.27,280.51 549.22,279.55 550.63,279.39" fill="#33ccf5" stroke="#33ccf5" stroke-width="0.45"/>
<polygon points="551.22,268.9 551.81,270.19 553.22,270.35 552.17,271.31 552.45,272.7 551.22,272 549.99,272.7 550.27,271.31 549.22,270.35 550.63,270.19" fill="#3a3af5" stroke="#3a3af5" stroke-width="0.45"/>
<polygon points="551.22,228.7 553.52,232.72 548.92,232.72" fill="none" stroke="#33ccf5" stroke-width="0.9"/>
<polygon points="551.22,265.7 553.52,269.73 548.92,269.73" fill="none" stroke="#3a3af5" stroke-width="0.9"/>
<polygon points="551.22,270.4 551.81,271.69 553.22,271.85 552.17,272.81 552.45,274.2 551.22,273.5 549.99,274.2 550.27,272.81 549.22,271.85 550.63,271.69" fill="#55d655" stroke="#55d655" stroke-width="0.45"/>
<polygon points="551.22,285 551.81,286.29 553.22,286.45 552.17,287.41 552.45,288.8 551.22,288.1 549.99,288.8 550.27,287.41 549.22,286.45 550.63,286.29" fill="#b455e6" stroke="#b455e6" stroke-width="0.45"/>
<polygon points="551.22,261.8 553.52,265.83 548.92,265.83" fill="none" stroke="#b455e6" stroke-width="0.9"/>
<polygon points="551.22,216.5 553.52,220.53 548.92,220.53" fill="none" stroke="#55d655" stroke-width="0.9"/>
<line x1="546.72" y1="268.3" x2="555.72" y2="268.3" stroke="#000" stroke-width="1.6"/>
<circle cx="56" cy="401.3" r="2.05" fill="none" stroke="#ff3b3b" stroke-width="0.9"/>
<text x="61.7" y="404">BCC-CSM2-MR</text>
<circle cx="121.5" cy="401.3" r="2.05" fill="none" stroke="#55d655" stroke-width="0.9"/>
<text x="126.9" y="404">CanESM5</text>
<circle cx="185.4" cy="401.3" r="2.05" fill="none" stroke="#33ccf5" stroke-width="0.9"/>
<text x="190.4" y="404">CESM2-WACCM</text>
<circle cx="254.7" cy="401.3" r="2.05" fill="none" stroke="#3a3af5" stroke-width="0.9"/>
<text x="260.2" y="404">CNRM-CM6-1</text>
<circle cx="322.9" cy="401.3" r="2.05" fill="none" stroke="#b455e6" stroke-width="0.9"/>
<text x="328.4" y="404">CNRM-ESM2-1</text>
<polygon points="390.2,399.41 392.09,402.71 388.31,402.71" fill="none" stroke="#ff3b3b" stroke-width="0.9"/>
<text x="395.9" y="404">FGOALS-g3</text>
<polygon points="445.2,399.58 445.68,400.64 446.84,400.77 445.98,401.55 446.21,402.69 445.2,402.12 444.19,402.69 444.42,401.55 443.56,400.77 444.72,400.64" fill="#ff3b3b" stroke="#ff3b3b" stroke-width="0.45"/>
<text x="450.8" y="404">UKESM1-0-LL</text>
<polygon points="505.4,399.58 505.88,400.64 507.04,400.77 506.18,401.55 506.41,402.69 505.4,402.12 504.39,402.69 504.62,401.55 503.76,400.77 504.92,400.64" fill="#33ccf5" stroke="#33ccf5" stroke-width="0.45"/>
<text x="511.2" y="404">INM-CM4-8</text>
<polygon points="56,408.48 56.48,409.54 57.64,409.67 56.78,410.45 57.01,411.59 56,411.02 54.99,411.59 55.22,410.45 54.36,409.67 55.52,409.54" fill="#3a3af5" stroke="#3a3af5" stroke-width="0.45"/>
<text x="61.7" y="413.4">INM-CM5-0</text>
<polygon points="121.5,408.31 123.39,411.61 119.61,411.61" fill="none" stroke="#33ccf5" stroke-width="0.9"/>
<text x="126.9" y="413.4">IPSL-CM6A-LR</text>
<polygon points="185.4,408.31 187.29,411.61 183.51,411.61" fill="none" stroke="#3a3af5" stroke-width="0.9"/>
<text x="190.4" y="413.4">MIROC6</text>
<polygon points="254.7,408.48 255.18,409.54 256.34,409.67 255.48,410.45 255.71,411.59 254.7,411.02 253.69,411.59 253.92,410.45 253.06,409.67 254.22,409.54" fill="#55d655" stroke="#55d655" stroke-width="0.45"/>
<text x="260.2" y="413.4">MPI-ESM1-2-HR</text>
<polygon points="322.9,408.48 323.38,409.54 324.54,409.67 323.68,410.45 323.91,411.59 322.9,411.02 321.89,411.59 322.12,410.45 321.26,409.67 322.42,409.54" fill="#b455e6" stroke="#b455e6" stroke-width="0.45"/>
<text x="328.4" y="413.4">MPI-ESM1-2-LR</text>
<polygon points="390.2,408.31 392.09,411.61 388.31,411.61" fill="none" stroke="#b455e6" stroke-width="0.9"/>
<text x="395.9" y="413.4">MRI-ESM2-0</text>
<polygon points="445.2,408.31 447.09,411.61 443.31,411.61" fill="none" stroke="#55d655" stroke-width="0.9"/>
<text x="450.8" y="413.4">GFDL-ESM4</text>
<line x1="504.1" y1="410.2" x2="506.7" y2="410.2" stroke="#222" stroke-width="1"/>
<text x="511.2" y="413.4">Median</text>
</svg></body></html>
